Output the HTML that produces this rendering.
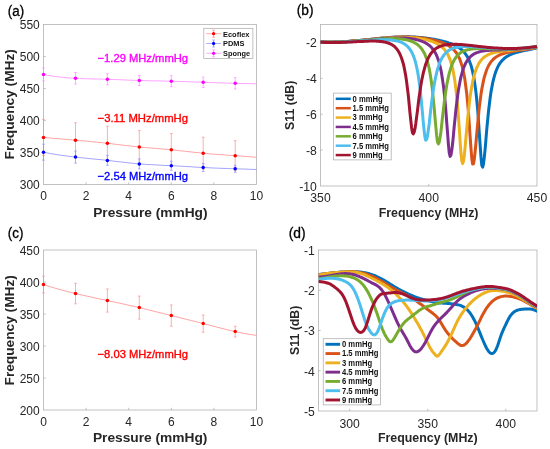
<!DOCTYPE html>
<html><head><meta charset="utf-8"><title>Figure</title>
<style>html,body{margin:0;padding:0;background:#fff}svg{display:block}text{font-family:"Liberation Sans", Arial, Helvetica, sans-serif}</style>
</head><body>
<svg width="550" height="449" viewBox="0 0 550 449" font-family='"Liberation Sans", Arial, Helvetica, sans-serif'>
<rect width="550" height="449" fill="#fff"/>
<rect x="43.5" y="24.5" width="213.0" height="160.0" fill="#fff" stroke="#b2b2b2" stroke-width="0.8"/>
<line x1="86.10" y1="184.5" x2="86.10" y2="182.3" stroke="#b2b2b2" stroke-width="0.8"/>
<line x1="128.70" y1="184.5" x2="128.70" y2="182.3" stroke="#b2b2b2" stroke-width="0.8"/>
<line x1="171.30" y1="184.5" x2="171.30" y2="182.3" stroke="#b2b2b2" stroke-width="0.8"/>
<line x1="213.90" y1="184.5" x2="213.90" y2="182.3" stroke="#b2b2b2" stroke-width="0.8"/>
<line x1="43.5" y1="152.50" x2="45.7" y2="152.50" stroke="#b2b2b2" stroke-width="0.8"/>
<line x1="43.5" y1="120.50" x2="45.7" y2="120.50" stroke="#b2b2b2" stroke-width="0.8"/>
<line x1="43.5" y1="88.50" x2="45.7" y2="88.50" stroke="#b2b2b2" stroke-width="0.8"/>
<line x1="43.5" y1="56.50" x2="45.7" y2="56.50" stroke="#b2b2b2" stroke-width="0.8"/>
<text x="39.8" y="188.9" font-size="12" text-anchor="end" font-weight="normal" fill="#262626">300</text>
<text x="39.8" y="156.9" font-size="12" text-anchor="end" font-weight="normal" fill="#262626">350</text>
<text x="39.8" y="124.9" font-size="12" text-anchor="end" font-weight="normal" fill="#262626">400</text>
<text x="39.8" y="92.9" font-size="12" text-anchor="end" font-weight="normal" fill="#262626">450</text>
<text x="39.8" y="60.9" font-size="12" text-anchor="end" font-weight="normal" fill="#262626">500</text>
<text x="39.8" y="28.9" font-size="12" text-anchor="end" font-weight="normal" fill="#262626">550</text>
<text x="43.5" y="200" font-size="12" text-anchor="middle" font-weight="normal" fill="#262626">0</text>
<text x="86.1" y="200" font-size="12" text-anchor="middle" font-weight="normal" fill="#262626">2</text>
<text x="128.7" y="200" font-size="12" text-anchor="middle" font-weight="normal" fill="#262626">4</text>
<text x="171.3" y="200" font-size="12" text-anchor="middle" font-weight="normal" fill="#262626">6</text>
<text x="213.9" y="200" font-size="12" text-anchor="middle" font-weight="normal" fill="#262626">8</text>
<text x="256.5" y="200" font-size="12" text-anchor="middle" font-weight="normal" fill="#262626">10</text>
<text x="150.4" y="217.4" font-size="13.6" text-anchor="middle" font-weight="bold" fill="#262626" textLength="114.4" lengthAdjust="spacingAndGlyphs">Pressure (mmHg)</text>
<text x="14" y="104.3" font-size="13.6" text-anchor="middle" font-weight="bold" fill="#262626" textLength="110.3" lengthAdjust="spacingAndGlyphs" transform="rotate(-90 14 104.3)">Frequency (MHz)</text>
<text x="7.8" y="15.6" font-size="14" text-anchor="start" font-weight="normal" fill="#000" textLength="16.3" lengthAdjust="spacingAndGlyphs" stroke="#000" stroke-width="0.3">(a)</text>
<path d="M43.5,74.5 L47.1,75.2 L50.7,75.8 L54.3,76.4 L57.9,76.8 L61.6,77.2 L65.2,77.6 L68.8,77.9 L72.4,78.1 L76.0,78.3 L79.6,78.5 L83.2,78.6 L86.8,78.8 L90.4,78.9 L94.0,79.0 L97.7,79.0 L101.3,79.1 L104.9,79.2 L108.5,79.3 L112.1,79.5 L115.7,79.6 L119.3,79.7 L122.9,79.9 L126.5,80.0 L130.1,80.2 L133.8,80.3 L137.4,80.4 L141.0,80.5 L144.6,80.6 L148.2,80.7 L151.8,80.8 L155.4,80.9 L159.0,80.9 L162.6,81.0 L166.2,81.1 L169.9,81.2 L173.5,81.3 L177.1,81.4 L180.7,81.5 L184.3,81.6 L187.9,81.7 L191.5,81.9 L195.1,82.0 L198.7,82.1 L202.3,82.3 L206.0,82.4 L209.6,82.5 L213.2,82.6 L216.8,82.8 L220.4,82.9 L224.0,83.0 L227.6,83.1 L231.2,83.2 L234.8,83.3 L238.4,83.4 L242.1,83.5 L245.7,83.6 L249.3,83.6 L252.9,83.7 L256.5,83.8" fill="none" stroke="#ff8cff" stroke-width="0.8"/>
<path d="M43.5,68.1 V80.9 M42.2,68.1 h2.6 M42.2,80.9 h2.6" fill="none" stroke="#ff8cff" stroke-width="0.7"/>
<circle cx="43.5" cy="74.5" r="1.75" fill="#ff00ff"/>
<path d="M75.5,72.5 V84.1 M74.2,72.5 h2.6 M74.2,84.1 h2.6" fill="none" stroke="#ff8cff" stroke-width="0.7"/>
<circle cx="75.5" cy="78.3" r="1.75" fill="#ff00ff"/>
<path d="M107.4,73.8 V84.8 M106.1,73.8 h2.6 M106.1,84.8 h2.6" fill="none" stroke="#ff8cff" stroke-width="0.7"/>
<circle cx="107.4" cy="79.3" r="1.75" fill="#ff00ff"/>
<path d="M139.3,75.5 V85.5 M138.0,75.5 h2.6 M138.0,85.5 h2.6" fill="none" stroke="#ff8cff" stroke-width="0.7"/>
<circle cx="139.3" cy="80.5" r="1.75" fill="#ff00ff"/>
<path d="M171.3,75.7 V86.7 M170.0,75.7 h2.6 M170.0,86.7 h2.6" fill="none" stroke="#ff8cff" stroke-width="0.7"/>
<circle cx="171.3" cy="81.2" r="1.75" fill="#ff00ff"/>
<path d="M203.2,77.1 V87.5 M201.9,77.1 h2.6 M201.9,87.5 h2.6" fill="none" stroke="#ff8cff" stroke-width="0.7"/>
<circle cx="203.2" cy="82.3" r="1.75" fill="#ff00ff"/>
<path d="M235.2,77.6 V89.0 M233.9,77.6 h2.6 M233.9,89.0 h2.6" fill="none" stroke="#ff8cff" stroke-width="0.7"/>
<circle cx="235.2" cy="83.3" r="1.75" fill="#ff00ff"/>
<path d="M43.5,137.4 L47.1,137.7 L50.7,138.1 L54.3,138.4 L57.9,138.7 L61.6,139.0 L65.2,139.3 L68.8,139.6 L72.4,139.9 L76.0,140.2 L79.6,140.6 L83.2,140.9 L86.8,141.2 L90.4,141.6 L94.0,141.9 L97.7,142.3 L101.3,142.6 L104.9,143.0 L108.5,143.4 L112.1,143.8 L115.7,144.3 L119.3,144.7 L122.9,145.1 L126.5,145.6 L130.1,146.0 L133.8,146.4 L137.4,146.8 L141.0,147.2 L144.6,147.5 L148.2,147.8 L151.8,148.1 L155.4,148.4 L159.0,148.7 L162.6,149.0 L166.2,149.3 L169.9,149.7 L173.5,150.0 L177.1,150.4 L180.7,150.8 L184.3,151.2 L187.9,151.6 L191.5,152.0 L195.1,152.4 L198.7,152.7 L202.3,153.1 L206.0,153.5 L209.6,153.8 L213.2,154.1 L216.8,154.4 L220.4,154.6 L224.0,154.9 L227.6,155.2 L231.2,155.4 L234.8,155.7 L238.4,155.9 L242.1,156.2 L245.7,156.4 L249.3,156.7 L252.9,157.0 L256.5,157.3" fill="none" stroke="#ff8c8c" stroke-width="0.8"/>
<path d="M43.5,119.4 V155.4 M42.2,119.4 h2.6 M42.2,155.4 h2.6" fill="none" stroke="#ff8c8c" stroke-width="0.7"/>
<circle cx="43.5" cy="137.4" r="1.75" fill="#ff0000"/>
<path d="M75.5,122.7 V157.7 M74.2,122.7 h2.6 M74.2,157.7 h2.6" fill="none" stroke="#ff8c8c" stroke-width="0.7"/>
<circle cx="75.5" cy="140.2" r="1.75" fill="#ff0000"/>
<path d="M107.4,126.3 V160.3 M106.1,126.3 h2.6 M106.1,160.3 h2.6" fill="none" stroke="#ff8c8c" stroke-width="0.7"/>
<circle cx="107.4" cy="143.3" r="1.75" fill="#ff0000"/>
<path d="M139.3,130.4 V163.6 M138.0,130.4 h2.6 M138.0,163.6 h2.6" fill="none" stroke="#ff8c8c" stroke-width="0.7"/>
<circle cx="139.3" cy="147.0" r="1.75" fill="#ff0000"/>
<path d="M171.3,133.6 V166.0 M170.0,133.6 h2.6 M170.0,166.0 h2.6" fill="none" stroke="#ff8c8c" stroke-width="0.7"/>
<circle cx="171.3" cy="149.8" r="1.75" fill="#ff0000"/>
<path d="M203.2,137.2 V169.2 M201.9,137.2 h2.6 M201.9,169.2 h2.6" fill="none" stroke="#ff8c8c" stroke-width="0.7"/>
<circle cx="203.2" cy="153.2" r="1.75" fill="#ff0000"/>
<path d="M235.2,140.7 V170.7 M233.9,140.7 h2.6 M233.9,170.7 h2.6" fill="none" stroke="#ff8c8c" stroke-width="0.7"/>
<circle cx="235.2" cy="155.7" r="1.75" fill="#ff0000"/>
<path d="M43.5,152.2 L47.1,152.9 L50.7,153.6 L54.3,154.2 L57.9,154.8 L61.6,155.3 L65.2,155.8 L68.8,156.3 L72.4,156.7 L76.0,157.2 L79.6,157.6 L83.2,157.9 L86.8,158.3 L90.4,158.7 L94.0,159.0 L97.7,159.4 L101.3,159.7 L104.9,160.1 L108.5,160.5 L112.1,160.9 L115.7,161.4 L119.3,161.8 L122.9,162.2 L126.5,162.6 L130.1,163.0 L133.8,163.4 L137.4,163.7 L141.0,164.0 L144.6,164.3 L148.2,164.5 L151.8,164.7 L155.4,164.9 L159.0,165.1 L162.6,165.3 L166.2,165.5 L169.9,165.6 L173.5,165.8 L177.1,166.0 L180.7,166.2 L184.3,166.4 L187.9,166.6 L191.5,166.8 L195.1,167.1 L198.7,167.3 L202.3,167.5 L206.0,167.6 L209.6,167.8 L213.2,168.0 L216.8,168.1 L220.4,168.3 L224.0,168.4 L227.6,168.5 L231.2,168.7 L234.8,168.8 L238.4,168.9 L242.1,169.0 L245.7,169.1 L249.3,169.3 L252.9,169.4 L256.5,169.5" fill="none" stroke="#8c8cff" stroke-width="0.8"/>
<path d="M43.5,144.2 V160.2 M42.2,144.2 h2.6 M42.2,160.2 h2.6" fill="none" stroke="#8c8cff" stroke-width="0.7"/>
<circle cx="43.5" cy="152.2" r="1.75" fill="#0000ff"/>
<path d="M75.5,151.1 V163.1 M74.2,151.1 h2.6 M74.2,163.1 h2.6" fill="none" stroke="#8c8cff" stroke-width="0.7"/>
<circle cx="75.5" cy="157.1" r="1.75" fill="#0000ff"/>
<path d="M107.4,155.4 V165.4 M106.1,155.4 h2.6 M106.1,165.4 h2.6" fill="none" stroke="#8c8cff" stroke-width="0.7"/>
<circle cx="107.4" cy="160.4" r="1.75" fill="#0000ff"/>
<path d="M139.3,158.9 V168.9 M138.0,158.9 h2.6 M138.0,168.9 h2.6" fill="none" stroke="#8c8cff" stroke-width="0.7"/>
<circle cx="139.3" cy="163.9" r="1.75" fill="#0000ff"/>
<path d="M171.3,161.2 V170.2 M170.0,161.2 h2.6 M170.0,170.2 h2.6" fill="none" stroke="#8c8cff" stroke-width="0.7"/>
<circle cx="171.3" cy="165.7" r="1.75" fill="#0000ff"/>
<path d="M203.2,163.5 V171.5 M201.9,163.5 h2.6 M201.9,171.5 h2.6" fill="none" stroke="#8c8cff" stroke-width="0.7"/>
<circle cx="203.2" cy="167.5" r="1.75" fill="#0000ff"/>
<path d="M235.2,165.2 V172.4 M233.9,165.2 h2.6 M233.9,172.4 h2.6" fill="none" stroke="#8c8cff" stroke-width="0.7"/>
<circle cx="235.2" cy="168.8" r="1.75" fill="#0000ff"/>
<text x="97.6" y="62.4" font-size="11" text-anchor="start" font-weight="normal" fill="#ff00ff" textLength="90.4" lengthAdjust="spacingAndGlyphs" stroke="#ff00ff" stroke-width="0.35">−1.29 MHz/mmHg</text>
<text x="97.6" y="121.8" font-size="11" text-anchor="start" font-weight="normal" fill="#ff0000" textLength="90.4" lengthAdjust="spacingAndGlyphs" stroke="#ff0000" stroke-width="0.35">−3.11 MHz/mmHg</text>
<text x="97.6" y="180.4" font-size="11" text-anchor="start" font-weight="normal" fill="#0000ff" textLength="90.4" lengthAdjust="spacingAndGlyphs" stroke="#0000ff" stroke-width="0.35">−2.54 MHz/mmHg</text>
<rect x="203.8" y="28.3" width="49.1" height="30.1" fill="#fff" stroke="#a8a8a8" stroke-width="0.7"/>
<path d="M206.2,33.7 H221 M213.6,30.200000000000003 v7 M212.2,30.200000000000003 h2.8 M212.2,37.2 h2.8" stroke="#ff8c8c" stroke-width="0.7" fill="none"/>
<circle cx="213.6" cy="33.7" r="1.65" fill="#ff0000"/>
<text x="223" y="36.5" font-size="8" text-anchor="start" font-weight="bold" fill="#111" textLength="26.5" lengthAdjust="spacingAndGlyphs">Ecoflex</text>
<path d="M206.2,43.5 H221 M213.6,40.0 v7 M212.2,40.0 h2.8 M212.2,47.0 h2.8" stroke="#8c8cff" stroke-width="0.7" fill="none"/>
<circle cx="213.6" cy="43.5" r="1.65" fill="#0000ff"/>
<text x="223" y="46.3" font-size="8" text-anchor="start" font-weight="bold" fill="#111" textLength="21.4" lengthAdjust="spacingAndGlyphs">PDMS</text>
<path d="M206.2,53.300000000000004 H221 M213.6,49.800000000000004 v7 M212.2,49.800000000000004 h2.8 M212.2,56.800000000000004 h2.8" stroke="#ff8cff" stroke-width="0.7" fill="none"/>
<circle cx="213.6" cy="53.300000000000004" r="1.65" fill="#ff00ff"/>
<text x="223" y="56.1" font-size="8" text-anchor="start" font-weight="bold" fill="#111" textLength="27" lengthAdjust="spacingAndGlyphs">Sponge</text>
<rect x="320.5" y="24.5" width="216.5" height="161.5" fill="#fff" stroke="#b2b2b2" stroke-width="0.8"/>
<line x1="428.75" y1="186" x2="428.75" y2="183.8" stroke="#b2b2b2" stroke-width="0.8"/>
<line x1="320.5" y1="42.44" x2="322.7" y2="42.44" stroke="#b2b2b2" stroke-width="0.8"/>
<line x1="320.5" y1="78.33" x2="322.7" y2="78.33" stroke="#b2b2b2" stroke-width="0.8"/>
<line x1="320.5" y1="114.22" x2="322.7" y2="114.22" stroke="#b2b2b2" stroke-width="0.8"/>
<line x1="320.5" y1="150.11" x2="322.7" y2="150.11" stroke="#b2b2b2" stroke-width="0.8"/>
<text x="316.8" y="47.44444444444444" font-size="12.2" text-anchor="end" font-weight="normal" fill="#262626">-2</text>
<text x="316.8" y="83.33333333333334" font-size="12.2" text-anchor="end" font-weight="normal" fill="#262626">-4</text>
<text x="316.8" y="119.22222222222223" font-size="12.2" text-anchor="end" font-weight="normal" fill="#262626">-6</text>
<text x="316.8" y="155.11111111111111" font-size="12.2" text-anchor="end" font-weight="normal" fill="#262626">-8</text>
<text x="316.8" y="191.0" font-size="12.2" text-anchor="end" font-weight="normal" fill="#262626">-10</text>
<text x="320.5" y="201.9" font-size="12.2" text-anchor="middle" font-weight="normal" fill="#262626">350</text>
<text x="428.75" y="201.9" font-size="12.2" text-anchor="middle" font-weight="normal" fill="#262626">400</text>
<text x="537.0" y="201.9" font-size="12.2" text-anchor="middle" font-weight="normal" fill="#262626">450</text>
<text x="428.6" y="217.2" font-size="12.4" text-anchor="middle" font-weight="bold" fill="#262626" textLength="99.7" lengthAdjust="spacingAndGlyphs">Frequency (MHz)</text>
<text x="294.2" y="105.3" font-size="12.3" text-anchor="middle" font-weight="bold" fill="#262626" textLength="49.4" lengthAdjust="spacingAndGlyphs" transform="rotate(-90 294.2 105.3)">S11 (dB)</text>
<text x="296.8" y="15.4" font-size="14.6" text-anchor="start" font-weight="normal" fill="#000" textLength="16.8" lengthAdjust="spacingAndGlyphs" stroke="#000" stroke-width="0.3">(b)</text>
<path d="M320.5,41.9 L321.3,41.9 L322.2,41.9 L323.0,42.0 L323.8,42.0 L324.7,42.0 L325.5,42.0 L326.4,42.0 L327.2,42.0 L328.0,42.1 L328.9,42.1 L329.7,42.1 L330.5,42.1 L331.4,42.1 L332.2,42.0 L333.0,42.0 L333.9,42.0 L334.7,42.0 L335.5,42.0 L336.4,42.0 L337.2,41.9 L338.1,41.9 L338.9,41.9 L339.7,41.8 L340.6,41.8 L341.4,41.8 L342.2,41.7 L343.1,41.7 L343.9,41.6 L344.7,41.6 L345.6,41.5 L346.4,41.5 L347.2,41.4 L348.1,41.4 L348.9,41.3 L349.8,41.3 L350.6,41.2 L351.4,41.1 L352.3,41.1 L353.1,41.0 L353.9,40.9 L354.8,40.9 L355.6,40.8 L356.4,40.7 L357.3,40.6 L358.1,40.6 L359.0,40.5 L359.8,40.4 L360.6,40.3 L361.5,40.2 L362.3,40.2 L363.1,40.1 L364.0,40.0 L364.8,39.9 L365.6,39.8 L366.5,39.7 L367.3,39.6 L368.1,39.6 L369.0,39.5 L369.8,39.4 L370.7,39.3 L371.5,39.2 L372.3,39.1 L373.2,39.0 L374.0,38.9 L374.8,38.8 L375.7,38.8 L376.5,38.7 L377.3,38.6 L378.2,38.5 L379.0,38.4 L379.8,38.3 L380.7,38.2 L381.5,38.2 L382.4,38.1 L383.2,38.0 L384.0,37.9 L384.9,37.9 L385.7,37.8 L386.5,37.7 L387.4,37.6 L388.2,37.6 L389.0,37.5 L389.9,37.4 L390.7,37.4 L391.6,37.3 L392.4,37.3 L393.2,37.2 L394.1,37.2 L394.9,37.1 L395.7,37.1 L396.6,37.0 L397.4,37.0 L398.2,36.9 L399.1,36.9 L399.9,36.9 L400.7,36.9 L401.6,36.8 L402.4,36.8 L403.3,36.8 L404.1,36.8 L404.9,36.8 L405.8,36.8 L406.6,36.8 L407.4,36.8 L408.3,36.8 L409.1,36.8 L409.9,36.8 L410.8,36.9 L411.6,36.9 L412.4,36.9 L413.3,37.0 L414.1,37.0 L415.0,37.1 L415.8,37.1 L416.6,37.2 L417.5,37.2 L418.3,37.3 L419.1,37.4 L420.0,37.4 L420.8,37.5 L421.6,37.6 L422.5,37.7 L423.3,37.8 L424.2,37.9 L425.0,38.0 L425.8,38.1 L426.7,38.2 L427.5,38.3 L428.3,38.4 L429.2,38.5 L430.0,38.7 L430.8,38.8 L431.7,38.9 L432.5,39.1 L433.3,39.2 L434.2,39.3 L435.0,39.5 L435.9,39.7 L436.7,39.8 L437.5,40.0 L438.4,40.2 L439.2,40.3 L440.0,40.5 L440.9,40.7 L441.7,40.9 L442.5,41.1 L443.4,41.3 L444.2,41.6 L445.1,41.8 L445.9,42.0 L446.7,42.3 L447.6,42.5 L448.4,42.8 L449.2,43.1 L450.1,43.4 L450.9,43.7 L451.7,44.0 L452.6,44.3 L453.4,44.7 L454.2,45.1 L455.1,45.5 L455.9,45.9 L456.8,46.4 L457.6,46.8 L458.4,47.4 L459.3,47.9 L460.1,48.5 L460.9,49.1 L461.8,49.8 L462.6,50.6 L463.4,51.4 L464.3,52.4 L465.1,53.4 L465.9,54.5 L466.8,55.8 L467.6,57.2 L468.5,58.9 L469.3,60.7 L470.1,62.9 L471.0,65.3 L471.8,68.2 L472.6,71.6 L473.5,75.6 L474.3,80.3 L475.1,85.9 L476.0,92.6 L476.8,100.6 L477.7,110.0 L478.5,121.0 L479.3,133.2 L480.2,145.9 L481.0,157.4 L481.8,165.3 L482.7,167.1 L483.5,163.9 L484.3,157.3 L485.2,148.4 L486.0,138.6 L486.8,128.8 L487.7,119.6 L488.5,111.3 L489.4,104.0 L490.2,97.5 L491.0,91.9 L491.9,87.1 L492.7,82.9 L493.5,79.3 L494.4,76.2 L495.2,73.4 L496.0,71.1 L496.9,69.0 L497.7,67.2 L498.5,65.6 L499.4,64.1 L500.2,62.9 L501.1,61.8 L501.9,60.8 L502.7,59.9 L503.6,59.1 L504.4,58.3 L505.2,57.7 L506.1,57.1 L506.9,56.5 L507.7,56.0 L508.6,55.6 L509.4,55.1 L510.3,54.7 L511.1,54.4 L511.9,54.0 L512.8,53.7 L513.6,53.4 L514.4,53.1 L515.3,52.9 L516.1,52.6 L516.9,52.4 L517.8,52.2 L518.6,51.9 L519.4,51.7 L520.3,51.5 L521.1,51.3 L522.0,51.1 L522.8,50.9 L523.6,50.7 L524.5,50.6 L525.3,50.4 L526.1,50.2 L527.0,50.0 L527.8,49.9 L528.6,49.7 L529.5,49.5 L530.3,49.3 L531.1,49.2 L532.0,49.0 L532.8,48.8 L533.7,48.6 L534.5,48.5 L535.3,48.3 L536.2,48.1 L537.0,47.9" fill="none" stroke="#0072bd" stroke-width="3" stroke-linejoin="round" stroke-linecap="butt"/>
<path d="M320.5,41.9 L321.3,41.9 L322.2,42.0 L323.0,42.0 L323.8,42.0 L324.7,42.0 L325.5,42.0 L326.4,42.1 L327.2,42.1 L328.0,42.1 L328.9,42.1 L329.7,42.1 L330.5,42.1 L331.4,42.1 L332.2,42.1 L333.0,42.1 L333.9,42.0 L334.7,42.0 L335.5,42.0 L336.4,42.0 L337.2,42.0 L338.1,41.9 L338.9,41.9 L339.7,41.9 L340.6,41.8 L341.4,41.8 L342.2,41.8 L343.1,41.7 L343.9,41.7 L344.7,41.6 L345.6,41.6 L346.4,41.5 L347.2,41.5 L348.1,41.4 L348.9,41.4 L349.8,41.3 L350.6,41.2 L351.4,41.2 L352.3,41.1 L353.1,41.0 L353.9,41.0 L354.8,40.9 L355.6,40.8 L356.4,40.8 L357.3,40.7 L358.1,40.6 L359.0,40.5 L359.8,40.4 L360.6,40.4 L361.5,40.3 L362.3,40.2 L363.1,40.1 L364.0,40.0 L364.8,40.0 L365.6,39.9 L366.5,39.8 L367.3,39.7 L368.1,39.6 L369.0,39.5 L369.8,39.4 L370.7,39.4 L371.5,39.3 L372.3,39.2 L373.2,39.1 L374.0,39.0 L374.8,38.9 L375.7,38.8 L376.5,38.7 L377.3,38.7 L378.2,38.6 L379.0,38.5 L379.8,38.4 L380.7,38.3 L381.5,38.3 L382.4,38.2 L383.2,38.1 L384.0,38.0 L384.9,37.9 L385.7,37.9 L386.5,37.8 L387.4,37.7 L388.2,37.7 L389.0,37.6 L389.9,37.5 L390.7,37.5 L391.6,37.4 L392.4,37.4 L393.2,37.3 L394.1,37.3 L394.9,37.2 L395.7,37.2 L396.6,37.2 L397.4,37.1 L398.2,37.1 L399.1,37.1 L399.9,37.0 L400.7,37.0 L401.6,37.0 L402.4,37.0 L403.3,37.0 L404.1,37.0 L404.9,37.0 L405.8,37.0 L406.6,37.0 L407.4,37.0 L408.3,37.0 L409.1,37.1 L409.9,37.1 L410.8,37.1 L411.6,37.2 L412.4,37.2 L413.3,37.3 L414.1,37.3 L415.0,37.4 L415.8,37.4 L416.6,37.5 L417.5,37.6 L418.3,37.7 L419.1,37.7 L420.0,37.8 L420.8,37.9 L421.6,38.0 L422.5,38.1 L423.3,38.2 L424.2,38.3 L425.0,38.5 L425.8,38.6 L426.7,38.7 L427.5,38.9 L428.3,39.0 L429.2,39.2 L430.0,39.3 L430.8,39.5 L431.7,39.7 L432.5,39.8 L433.3,40.0 L434.2,40.2 L435.0,40.4 L435.9,40.6 L436.7,40.8 L437.5,41.1 L438.4,41.3 L439.2,41.6 L440.0,41.8 L440.9,42.1 L441.7,42.4 L442.5,42.7 L443.4,43.1 L444.2,43.4 L445.1,43.8 L445.9,44.2 L446.7,44.6 L447.6,45.1 L448.4,45.5 L449.2,46.1 L450.1,46.6 L450.9,47.2 L451.7,47.9 L452.6,48.6 L453.4,49.4 L454.2,50.3 L455.1,51.3 L455.9,52.3 L456.8,53.5 L457.6,54.9 L458.4,56.4 L459.3,58.1 L460.1,60.1 L460.9,62.4 L461.8,65.1 L462.6,68.2 L463.4,71.8 L464.3,76.1 L465.1,81.1 L465.9,87.2 L466.8,94.4 L467.6,102.9 L468.5,112.8 L469.3,124.1 L470.1,136.4 L471.0,148.6 L471.8,158.7 L472.6,164.1 L473.5,163.7 L474.3,159.2 L475.1,151.8 L476.0,142.7 L476.8,133.1 L477.7,123.8 L478.5,115.1 L479.3,107.3 L480.2,100.4 L481.0,94.3 L481.8,89.1 L482.7,84.6 L483.5,80.6 L484.3,77.2 L485.2,74.3 L486.0,71.7 L486.8,69.5 L487.7,67.5 L488.5,65.8 L489.4,64.3 L490.2,63.0 L491.0,61.8 L491.9,60.8 L492.7,59.9 L493.5,59.0 L494.4,58.3 L495.2,57.6 L496.0,57.0 L496.9,56.5 L497.7,56.0 L498.5,55.5 L499.4,55.1 L500.2,54.7 L501.1,54.4 L501.9,54.1 L502.7,53.8 L503.6,53.5 L504.4,53.3 L505.2,53.0 L506.1,52.8 L506.9,52.6 L507.7,52.4 L508.6,52.2 L509.4,52.0 L510.3,51.9 L511.1,51.7 L511.9,51.6 L512.8,51.4 L513.6,51.3 L514.4,51.1 L515.3,51.0 L516.1,50.8 L516.9,50.7 L517.8,50.6 L518.6,50.5 L519.4,50.3 L520.3,50.2 L521.1,50.1 L522.0,50.0 L522.8,49.8 L523.6,49.7 L524.5,49.6 L525.3,49.4 L526.1,49.3 L527.0,49.2 L527.8,49.0 L528.6,48.9 L529.5,48.8 L530.3,48.6 L531.1,48.5 L532.0,48.4 L532.8,48.2 L533.7,48.1 L534.5,47.9 L535.3,47.8 L536.2,47.6 L537.0,47.4" fill="none" stroke="#d95319" stroke-width="3" stroke-linejoin="round" stroke-linecap="butt"/>
<path d="M320.5,41.9 L321.3,41.9 L322.2,42.0 L323.0,42.0 L323.8,42.0 L324.7,42.1 L325.5,42.1 L326.4,42.1 L327.2,42.1 L328.0,42.1 L328.9,42.1 L329.7,42.1 L330.5,42.1 L331.4,42.1 L332.2,42.1 L333.0,42.1 L333.9,42.1 L334.7,42.1 L335.5,42.0 L336.4,42.0 L337.2,42.0 L338.1,42.0 L338.9,41.9 L339.7,41.9 L340.6,41.9 L341.4,41.8 L342.2,41.8 L343.1,41.8 L343.9,41.7 L344.7,41.7 L345.6,41.6 L346.4,41.6 L347.2,41.5 L348.1,41.5 L348.9,41.4 L349.8,41.3 L350.6,41.3 L351.4,41.2 L352.3,41.2 L353.1,41.1 L353.9,41.0 L354.8,41.0 L355.6,40.9 L356.4,40.8 L357.3,40.7 L358.1,40.7 L359.0,40.6 L359.8,40.5 L360.6,40.4 L361.5,40.4 L362.3,40.3 L363.1,40.2 L364.0,40.1 L364.8,40.0 L365.6,40.0 L366.5,39.9 L367.3,39.8 L368.1,39.7 L369.0,39.6 L369.8,39.5 L370.7,39.4 L371.5,39.4 L372.3,39.3 L373.2,39.2 L374.0,39.1 L374.8,39.0 L375.7,38.9 L376.5,38.9 L377.3,38.8 L378.2,38.7 L379.0,38.6 L379.8,38.5 L380.7,38.5 L381.5,38.4 L382.4,38.3 L383.2,38.2 L384.0,38.2 L384.9,38.1 L385.7,38.0 L386.5,38.0 L387.4,37.9 L388.2,37.8 L389.0,37.8 L389.9,37.7 L390.7,37.7 L391.6,37.6 L392.4,37.6 L393.2,37.5 L394.1,37.5 L394.9,37.5 L395.7,37.4 L396.6,37.4 L397.4,37.4 L398.2,37.3 L399.1,37.3 L399.9,37.3 L400.7,37.3 L401.6,37.3 L402.4,37.3 L403.3,37.3 L404.1,37.3 L404.9,37.3 L405.8,37.3 L406.6,37.4 L407.4,37.4 L408.3,37.4 L409.1,37.5 L409.9,37.5 L410.8,37.6 L411.6,37.6 L412.4,37.7 L413.3,37.8 L414.1,37.8 L415.0,37.9 L415.8,38.0 L416.6,38.1 L417.5,38.2 L418.3,38.3 L419.1,38.4 L420.0,38.6 L420.8,38.7 L421.6,38.8 L422.5,39.0 L423.3,39.2 L424.2,39.3 L425.0,39.5 L425.8,39.7 L426.7,39.9 L427.5,40.1 L428.3,40.3 L429.2,40.6 L430.0,40.8 L430.8,41.1 L431.7,41.3 L432.5,41.6 L433.3,42.0 L434.2,42.3 L435.0,42.7 L435.9,43.1 L436.7,43.5 L437.5,43.9 L438.4,44.4 L439.2,44.9 L440.0,45.5 L440.9,46.1 L441.7,46.8 L442.5,47.5 L443.4,48.4 L444.2,49.3 L445.1,50.3 L445.9,51.4 L446.7,52.7 L447.6,54.1 L448.4,55.7 L449.2,57.6 L450.1,59.7 L450.9,62.2 L451.7,65.1 L452.6,68.4 L453.4,72.4 L454.2,77.0 L455.1,82.6 L455.9,89.2 L456.8,97.0 L457.6,106.1 L458.4,116.7 L459.3,128.6 L460.1,141.0 L460.9,152.5 L461.8,160.9 L462.6,163.6 L463.4,161.4 L464.3,155.5 L465.1,147.3 L465.9,137.9 L466.8,128.3 L467.6,119.2 L468.5,110.9 L469.3,103.4 L470.1,96.9 L471.0,91.1 L471.8,86.2 L472.6,81.9 L473.5,78.2 L474.3,74.9 L475.1,72.2 L476.0,69.7 L476.8,67.6 L477.7,65.8 L478.5,64.1 L479.3,62.7 L480.2,61.5 L481.0,60.3 L481.8,59.4 L482.7,58.5 L483.5,57.7 L484.3,57.0 L485.2,56.4 L486.0,55.9 L486.8,55.4 L487.7,54.9 L488.5,54.5 L489.4,54.2 L490.2,53.8 L491.0,53.5 L491.9,53.3 L492.7,53.0 L493.5,52.8 L494.4,52.6 L495.2,52.4 L496.0,52.2 L496.9,52.1 L497.7,51.9 L498.5,51.8 L499.4,51.6 L500.2,51.5 L501.1,51.4 L501.9,51.3 L502.7,51.2 L503.6,51.1 L504.4,51.0 L505.2,50.9 L506.1,50.8 L506.9,50.7 L507.7,50.7 L508.6,50.6 L509.4,50.5 L510.3,50.4 L511.1,50.3 L511.9,50.3 L512.8,50.2 L513.6,50.1 L514.4,50.0 L515.3,49.9 L516.1,49.9 L516.9,49.8 L517.8,49.7 L518.6,49.6 L519.4,49.5 L520.3,49.4 L521.1,49.3 L522.0,49.2 L522.8,49.2 L523.6,49.1 L524.5,49.0 L525.3,48.9 L526.1,48.8 L527.0,48.6 L527.8,48.5 L528.6,48.4 L529.5,48.3 L530.3,48.2 L531.1,48.1 L532.0,47.9 L532.8,47.8 L533.7,47.7 L534.5,47.5 L535.3,47.4 L536.2,47.2 L537.0,47.1" fill="none" stroke="#edb120" stroke-width="3" stroke-linejoin="round" stroke-linecap="butt"/>
<path d="M320.5,42.0 L321.3,42.0 L322.2,42.0 L323.0,42.1 L323.8,42.1 L324.7,42.1 L325.5,42.1 L326.4,42.1 L327.2,42.2 L328.0,42.2 L328.9,42.2 L329.7,42.2 L330.5,42.2 L331.4,42.2 L332.2,42.2 L333.0,42.2 L333.9,42.1 L334.7,42.1 L335.5,42.1 L336.4,42.1 L337.2,42.1 L338.1,42.0 L338.9,42.0 L339.7,42.0 L340.6,41.9 L341.4,41.9 L342.2,41.9 L343.1,41.8 L343.9,41.8 L344.7,41.7 L345.6,41.7 L346.4,41.6 L347.2,41.6 L348.1,41.5 L348.9,41.5 L349.8,41.4 L350.6,41.4 L351.4,41.3 L352.3,41.3 L353.1,41.2 L353.9,41.1 L354.8,41.1 L355.6,41.0 L356.4,40.9 L357.3,40.9 L358.1,40.8 L359.0,40.7 L359.8,40.6 L360.6,40.6 L361.5,40.5 L362.3,40.4 L363.1,40.3 L364.0,40.3 L364.8,40.2 L365.6,40.1 L366.5,40.0 L367.3,39.9 L368.1,39.9 L369.0,39.8 L369.8,39.7 L370.7,39.6 L371.5,39.5 L372.3,39.5 L373.2,39.4 L374.0,39.3 L374.8,39.2 L375.7,39.1 L376.5,39.1 L377.3,39.0 L378.2,38.9 L379.0,38.8 L379.8,38.8 L380.7,38.7 L381.5,38.6 L382.4,38.6 L383.2,38.5 L384.0,38.4 L384.9,38.4 L385.7,38.3 L386.5,38.3 L387.4,38.2 L388.2,38.2 L389.0,38.1 L389.9,38.1 L390.7,38.0 L391.6,38.0 L392.4,38.0 L393.2,37.9 L394.1,37.9 L394.9,37.9 L395.7,37.9 L396.6,37.9 L397.4,37.9 L398.2,37.9 L399.1,37.9 L399.9,37.9 L400.7,37.9 L401.6,37.9 L402.4,37.9 L403.3,38.0 L404.1,38.0 L404.9,38.0 L405.8,38.1 L406.6,38.2 L407.4,38.2 L408.3,38.3 L409.1,38.4 L409.9,38.5 L410.8,38.6 L411.6,38.7 L412.4,38.9 L413.3,39.0 L414.1,39.1 L415.0,39.3 L415.8,39.5 L416.6,39.7 L417.5,39.9 L418.3,40.1 L419.1,40.3 L420.0,40.6 L420.8,40.9 L421.6,41.2 L422.5,41.5 L423.3,41.9 L424.2,42.2 L425.0,42.6 L425.8,43.1 L426.7,43.6 L427.5,44.1 L428.3,44.7 L429.2,45.3 L430.0,46.0 L430.8,46.8 L431.7,47.7 L432.5,48.7 L433.3,49.7 L434.2,51.0 L435.0,52.3 L435.9,53.9 L436.7,55.7 L437.5,57.7 L438.4,60.1 L439.2,62.8 L440.0,66.1 L440.9,69.8 L441.7,74.2 L442.5,79.4 L443.4,85.6 L444.2,92.9 L445.1,101.4 L445.9,111.2 L446.7,122.1 L447.6,133.5 L448.4,144.3 L449.2,152.6 L450.1,156.4 L450.9,155.2 L451.7,150.7 L452.6,143.8 L453.4,135.4 L454.2,126.5 L455.1,117.9 L455.9,109.8 L456.8,102.5 L457.6,96.0 L458.4,90.3 L459.3,85.3 L460.1,80.9 L460.9,77.1 L461.8,73.8 L462.6,71.0 L463.4,68.5 L464.3,66.3 L465.1,64.4 L465.9,62.7 L466.8,61.3 L467.6,60.0 L468.5,58.9 L469.3,57.9 L470.1,57.0 L471.0,56.2 L471.8,55.5 L472.6,54.9 L473.5,54.3 L474.3,53.8 L475.1,53.4 L476.0,53.0 L476.8,52.7 L477.7,52.4 L478.5,52.1 L479.3,51.8 L480.2,51.6 L481.0,51.4 L481.8,51.2 L482.7,51.1 L483.5,50.9 L484.3,50.8 L485.2,50.7 L486.0,50.6 L486.8,50.5 L487.7,50.4 L488.5,50.4 L489.4,50.3 L490.2,50.3 L491.0,50.2 L491.9,50.2 L492.7,50.1 L493.5,50.1 L494.4,50.1 L495.2,50.0 L496.0,50.0 L496.9,50.0 L497.7,49.9 L498.5,49.9 L499.4,49.9 L500.2,49.9 L501.1,49.8 L501.9,49.8 L502.7,49.8 L503.6,49.8 L504.4,49.7 L505.2,49.7 L506.1,49.7 L506.9,49.7 L507.7,49.6 L508.6,49.6 L509.4,49.6 L510.3,49.5 L511.1,49.5 L511.9,49.4 L512.8,49.4 L513.6,49.4 L514.4,49.3 L515.3,49.3 L516.1,49.2 L516.9,49.2 L517.8,49.1 L518.6,49.0 L519.4,49.0 L520.3,48.9 L521.1,48.8 L522.0,48.8 L522.8,48.7 L523.6,48.6 L524.5,48.5 L525.3,48.4 L526.1,48.3 L527.0,48.3 L527.8,48.2 L528.6,48.1 L529.5,48.0 L530.3,47.8 L531.1,47.7 L532.0,47.6 L532.8,47.5 L533.7,47.4 L534.5,47.2 L535.3,47.1 L536.2,47.0 L537.0,46.8" fill="none" stroke="#7e2f8e" stroke-width="3" stroke-linejoin="round" stroke-linecap="butt"/>
<path d="M320.5,42.0 L321.3,42.0 L322.2,42.1 L323.0,42.1 L323.8,42.1 L324.7,42.2 L325.5,42.2 L326.4,42.2 L327.2,42.2 L328.0,42.2 L328.9,42.2 L329.7,42.2 L330.5,42.2 L331.4,42.2 L332.2,42.2 L333.0,42.2 L333.9,42.2 L334.7,42.2 L335.5,42.2 L336.4,42.2 L337.2,42.1 L338.1,42.1 L338.9,42.1 L339.7,42.1 L340.6,42.0 L341.4,42.0 L342.2,42.0 L343.1,41.9 L343.9,41.9 L344.7,41.8 L345.6,41.8 L346.4,41.7 L347.2,41.7 L348.1,41.6 L348.9,41.6 L349.8,41.5 L350.6,41.5 L351.4,41.4 L352.3,41.4 L353.1,41.3 L353.9,41.3 L354.8,41.2 L355.6,41.1 L356.4,41.1 L357.3,41.0 L358.1,40.9 L359.0,40.9 L359.8,40.8 L360.6,40.7 L361.5,40.6 L362.3,40.6 L363.1,40.5 L364.0,40.4 L364.8,40.4 L365.6,40.3 L366.5,40.2 L367.3,40.1 L368.1,40.1 L369.0,40.0 L369.8,39.9 L370.7,39.8 L371.5,39.8 L372.3,39.7 L373.2,39.6 L374.0,39.6 L374.8,39.5 L375.7,39.4 L376.5,39.4 L377.3,39.3 L378.2,39.2 L379.0,39.2 L379.8,39.1 L380.7,39.1 L381.5,39.0 L382.4,38.9 L383.2,38.9 L384.0,38.9 L384.9,38.8 L385.7,38.8 L386.5,38.7 L387.4,38.7 L388.2,38.7 L389.0,38.7 L389.9,38.6 L390.7,38.6 L391.6,38.6 L392.4,38.6 L393.2,38.6 L394.1,38.6 L394.9,38.7 L395.7,38.7 L396.6,38.7 L397.4,38.7 L398.2,38.8 L399.1,38.8 L399.9,38.9 L400.7,39.0 L401.6,39.1 L402.4,39.2 L403.3,39.3 L404.1,39.4 L404.9,39.5 L405.8,39.7 L406.6,39.9 L407.4,40.1 L408.3,40.3 L409.1,40.5 L409.9,40.8 L410.8,41.0 L411.6,41.3 L412.4,41.7 L413.3,42.0 L414.1,42.5 L415.0,42.9 L415.8,43.4 L416.6,43.9 L417.5,44.6 L418.3,45.2 L419.1,46.0 L420.0,46.8 L420.8,47.8 L421.6,48.8 L422.5,50.0 L423.3,51.4 L424.2,52.9 L425.0,54.7 L425.8,56.7 L426.7,59.1 L427.5,61.8 L428.3,65.0 L429.2,68.7 L430.0,73.0 L430.8,78.1 L431.7,84.1 L432.5,91.0 L433.3,99.0 L434.2,108.0 L435.0,117.6 L435.9,127.4 L436.7,136.0 L437.5,142.0 L438.4,143.9 L439.2,142.3 L440.0,138.0 L440.9,132.0 L441.7,124.8 L442.5,117.2 L443.4,109.7 L444.2,102.7 L445.1,96.3 L445.9,90.5 L446.7,85.4 L447.6,80.8 L448.4,76.9 L449.2,73.4 L450.1,70.4 L450.9,67.7 L451.7,65.4 L452.6,63.3 L453.4,61.6 L454.2,60.0 L455.1,58.6 L455.9,57.4 L456.8,56.3 L457.6,55.4 L458.4,54.5 L459.3,53.8 L460.1,53.1 L460.9,52.6 L461.8,52.0 L462.6,51.6 L463.4,51.2 L464.3,50.8 L465.1,50.5 L465.9,50.2 L466.8,50.0 L467.6,49.8 L468.5,49.6 L469.3,49.4 L470.1,49.3 L471.0,49.1 L471.8,49.0 L472.6,48.9 L473.5,48.8 L474.3,48.8 L475.1,48.7 L476.0,48.7 L476.8,48.6 L477.7,48.6 L478.5,48.6 L479.3,48.6 L480.2,48.6 L481.0,48.6 L481.8,48.6 L482.7,48.6 L483.5,48.6 L484.3,48.6 L485.2,48.6 L486.0,48.7 L486.8,48.7 L487.7,48.7 L488.5,48.7 L489.4,48.8 L490.2,48.8 L491.0,48.8 L491.9,48.8 L492.7,48.9 L493.5,48.9 L494.4,48.9 L495.2,48.9 L496.0,49.0 L496.9,49.0 L497.7,49.0 L498.5,49.0 L499.4,49.0 L500.2,49.0 L501.1,49.1 L501.9,49.1 L502.7,49.1 L503.6,49.1 L504.4,49.1 L505.2,49.1 L506.1,49.1 L506.9,49.1 L507.7,49.1 L508.6,49.1 L509.4,49.0 L510.3,49.0 L511.1,49.0 L511.9,49.0 L512.8,49.0 L513.6,48.9 L514.4,48.9 L515.3,48.9 L516.1,48.8 L516.9,48.8 L517.8,48.7 L518.6,48.7 L519.4,48.6 L520.3,48.6 L521.1,48.5 L522.0,48.5 L522.8,48.4 L523.6,48.3 L524.5,48.2 L525.3,48.2 L526.1,48.1 L527.0,48.0 L527.8,47.9 L528.6,47.8 L529.5,47.7 L530.3,47.6 L531.1,47.5 L532.0,47.4 L532.8,47.3 L533.7,47.2 L534.5,47.1 L535.3,46.9 L536.2,46.8 L537.0,46.7" fill="none" stroke="#77ac30" stroke-width="3" stroke-linejoin="round" stroke-linecap="butt"/>
<path d="M320.5,42.1 L321.3,42.1 L322.2,42.2 L323.0,42.2 L323.8,42.2 L324.7,42.2 L325.5,42.3 L326.4,42.3 L327.2,42.3 L328.0,42.3 L328.9,42.3 L329.7,42.3 L330.5,42.3 L331.4,42.3 L332.2,42.3 L333.0,42.3 L333.9,42.3 L334.7,42.3 L335.5,42.3 L336.4,42.3 L337.2,42.3 L338.1,42.2 L338.9,42.2 L339.7,42.2 L340.6,42.2 L341.4,42.1 L342.2,42.1 L343.1,42.1 L343.9,42.0 L344.7,42.0 L345.6,41.9 L346.4,41.9 L347.2,41.9 L348.1,41.8 L348.9,41.8 L349.8,41.7 L350.6,41.7 L351.4,41.6 L352.3,41.6 L353.1,41.5 L353.9,41.5 L354.8,41.4 L355.6,41.3 L356.4,41.3 L357.3,41.2 L358.1,41.2 L359.0,41.1 L359.8,41.1 L360.6,41.0 L361.5,40.9 L362.3,40.9 L363.1,40.8 L364.0,40.7 L364.8,40.7 L365.6,40.6 L366.5,40.6 L367.3,40.5 L368.1,40.4 L369.0,40.4 L369.8,40.3 L370.7,40.3 L371.5,40.2 L372.3,40.2 L373.2,40.1 L374.0,40.1 L374.8,40.0 L375.7,40.0 L376.5,39.9 L377.3,39.9 L378.2,39.9 L379.0,39.8 L379.8,39.8 L380.7,39.8 L381.5,39.8 L382.4,39.7 L383.2,39.7 L384.0,39.7 L384.9,39.7 L385.7,39.8 L386.5,39.8 L387.4,39.8 L388.2,39.8 L389.0,39.9 L389.9,39.9 L390.7,40.0 L391.6,40.1 L392.4,40.2 L393.2,40.3 L394.1,40.4 L394.9,40.5 L395.7,40.7 L396.6,40.9 L397.4,41.1 L398.2,41.3 L399.1,41.5 L399.9,41.8 L400.7,42.1 L401.6,42.4 L402.4,42.8 L403.3,43.3 L404.1,43.7 L404.9,44.3 L405.8,44.9 L406.6,45.6 L407.4,46.3 L408.3,47.2 L409.1,48.2 L409.9,49.3 L410.8,50.6 L411.6,52.0 L412.4,53.7 L413.3,55.6 L414.1,57.8 L415.0,60.4 L415.8,63.4 L416.6,66.9 L417.5,71.0 L418.3,75.8 L419.1,81.5 L420.0,88.0 L420.8,95.5 L421.6,104.0 L422.5,113.2 L423.3,122.6 L424.2,131.1 L425.0,137.5 L425.8,140.2 L426.7,139.3 L427.5,135.8 L428.3,130.4 L429.2,123.7 L430.0,116.5 L430.8,109.2 L431.7,102.2 L432.5,95.8 L433.3,89.9 L434.2,84.7 L435.0,80.1 L435.9,76.0 L436.7,72.5 L437.5,69.3 L438.4,66.6 L439.2,64.2 L440.0,62.0 L440.9,60.2 L441.7,58.5 L442.5,57.1 L443.4,55.8 L444.2,54.7 L445.1,53.7 L445.9,52.8 L446.7,52.0 L447.6,51.3 L448.4,50.7 L449.2,50.1 L450.1,49.7 L450.9,49.2 L451.7,48.8 L452.6,48.5 L453.4,48.2 L454.2,47.9 L455.1,47.7 L455.9,47.5 L456.8,47.3 L457.6,47.2 L458.4,47.0 L459.3,46.9 L460.1,46.8 L460.9,46.7 L461.8,46.7 L462.6,46.6 L463.4,46.6 L464.3,46.6 L465.1,46.6 L465.9,46.6 L466.8,46.6 L467.6,46.6 L468.5,46.6 L469.3,46.6 L470.1,46.6 L471.0,46.7 L471.8,46.7 L472.6,46.8 L473.5,46.8 L474.3,46.9 L475.1,46.9 L476.0,47.0 L476.8,47.0 L477.7,47.1 L478.5,47.1 L479.3,47.2 L480.2,47.3 L481.0,47.3 L481.8,47.4 L482.7,47.5 L483.5,47.5 L484.3,47.6 L485.2,47.7 L486.0,47.7 L486.8,47.8 L487.7,47.9 L488.5,47.9 L489.4,48.0 L490.2,48.0 L491.0,48.1 L491.9,48.2 L492.7,48.2 L493.5,48.3 L494.4,48.3 L495.2,48.4 L496.0,48.4 L496.9,48.4 L497.7,48.5 L498.5,48.5 L499.4,48.6 L500.2,48.6 L501.1,48.6 L501.9,48.6 L502.7,48.7 L503.6,48.7 L504.4,48.7 L505.2,48.7 L506.1,48.7 L506.9,48.7 L507.7,48.7 L508.6,48.7 L509.4,48.7 L510.3,48.7 L511.1,48.7 L511.9,48.7 L512.8,48.7 L513.6,48.7 L514.4,48.6 L515.3,48.6 L516.1,48.6 L516.9,48.5 L517.8,48.5 L518.6,48.5 L519.4,48.4 L520.3,48.4 L521.1,48.3 L522.0,48.3 L522.8,48.2 L523.6,48.1 L524.5,48.1 L525.3,48.0 L526.1,47.9 L527.0,47.8 L527.8,47.7 L528.6,47.7 L529.5,47.6 L530.3,47.5 L531.1,47.4 L532.0,47.3 L532.8,47.1 L533.7,47.0 L534.5,46.9 L535.3,46.8 L536.2,46.7 L537.0,46.5" fill="none" stroke="#4dbeee" stroke-width="3" stroke-linejoin="round" stroke-linecap="butt"/>
<path d="M320.5,42.2 L321.3,42.2 L322.2,42.3 L323.0,42.3 L323.8,42.3 L324.7,42.4 L325.5,42.4 L326.4,42.4 L327.2,42.4 L328.0,42.4 L328.9,42.5 L329.7,42.5 L330.5,42.5 L331.4,42.5 L332.2,42.5 L333.0,42.5 L333.9,42.5 L334.7,42.5 L335.5,42.5 L336.4,42.4 L337.2,42.4 L338.1,42.4 L338.9,42.4 L339.7,42.4 L340.6,42.4 L341.4,42.3 L342.2,42.3 L343.1,42.3 L343.9,42.3 L344.7,42.2 L345.6,42.2 L346.4,42.2 L347.2,42.1 L348.1,42.1 L348.9,42.0 L349.8,42.0 L350.6,42.0 L351.4,41.9 L352.3,41.9 L353.1,41.8 L353.9,41.8 L354.8,41.8 L355.6,41.7 L356.4,41.7 L357.3,41.6 L358.1,41.6 L359.0,41.6 L359.8,41.5 L360.6,41.5 L361.5,41.4 L362.3,41.4 L363.1,41.4 L364.0,41.3 L364.8,41.3 L365.6,41.2 L366.5,41.2 L367.3,41.2 L368.1,41.2 L369.0,41.1 L369.8,41.1 L370.7,41.1 L371.5,41.1 L372.3,41.1 L373.2,41.1 L374.0,41.1 L374.8,41.1 L375.7,41.1 L376.5,41.2 L377.3,41.2 L378.2,41.2 L379.0,41.3 L379.8,41.4 L380.7,41.4 L381.5,41.5 L382.4,41.7 L383.2,41.8 L384.0,41.9 L384.9,42.1 L385.7,42.3 L386.5,42.5 L387.4,42.7 L388.2,43.0 L389.0,43.3 L389.9,43.7 L390.7,44.1 L391.6,44.5 L392.4,45.0 L393.2,45.6 L394.1,46.2 L394.9,46.9 L395.7,47.8 L396.6,48.7 L397.4,49.8 L398.2,51.0 L399.1,52.5 L399.9,54.1 L400.7,56.0 L401.6,58.2 L402.4,60.8 L403.3,63.7 L404.1,67.2 L404.9,71.3 L405.8,76.1 L406.6,81.7 L407.4,88.1 L408.3,95.4 L409.1,103.5 L409.9,112.1 L410.8,120.5 L411.6,127.7 L412.4,132.6 L413.3,133.9 L414.1,132.4 L415.0,128.7 L415.8,123.4 L416.6,117.1 L417.5,110.4 L418.3,103.6 L419.1,97.2 L420.0,91.3 L420.8,85.9 L421.6,81.0 L422.5,76.7 L423.3,72.9 L424.2,69.6 L425.0,66.6 L425.8,64.0 L426.7,61.7 L427.5,59.7 L428.3,57.9 L429.2,56.3 L430.0,54.9 L430.8,53.7 L431.7,52.6 L432.5,51.6 L433.3,50.7 L434.2,49.9 L435.0,49.2 L435.9,48.6 L436.7,48.1 L437.5,47.6 L438.4,47.1 L439.2,46.7 L440.0,46.4 L440.9,46.1 L441.7,45.8 L442.5,45.6 L443.4,45.3 L444.2,45.1 L445.1,45.0 L445.9,44.8 L446.7,44.7 L447.6,44.6 L448.4,44.5 L449.2,44.4 L450.1,44.4 L450.9,44.3 L451.7,44.3 L452.6,44.3 L453.4,44.3 L454.2,44.3 L455.1,44.3 L455.9,44.3 L456.8,44.3 L457.6,44.4 L458.4,44.4 L459.3,44.5 L460.1,44.5 L460.9,44.6 L461.8,44.6 L462.6,44.7 L463.4,44.8 L464.3,44.8 L465.1,44.9 L465.9,45.0 L466.8,45.1 L467.6,45.2 L468.5,45.2 L469.3,45.3 L470.1,45.4 L471.0,45.5 L471.8,45.6 L472.6,45.7 L473.5,45.8 L474.3,45.9 L475.1,46.0 L476.0,46.1 L476.8,46.2 L477.7,46.3 L478.5,46.4 L479.3,46.5 L480.2,46.6 L481.0,46.7 L481.8,46.7 L482.7,46.8 L483.5,46.9 L484.3,47.0 L485.2,47.1 L486.0,47.2 L486.8,47.3 L487.7,47.4 L488.5,47.4 L489.4,47.5 L490.2,47.6 L491.0,47.7 L491.9,47.7 L492.7,47.8 L493.5,47.9 L494.4,47.9 L495.2,48.0 L496.0,48.0 L496.9,48.1 L497.7,48.1 L498.5,48.2 L499.4,48.2 L500.2,48.3 L501.1,48.3 L501.9,48.3 L502.7,48.4 L503.6,48.4 L504.4,48.4 L505.2,48.4 L506.1,48.5 L506.9,48.5 L507.7,48.5 L508.6,48.5 L509.4,48.5 L510.3,48.5 L511.1,48.5 L511.9,48.5 L512.8,48.5 L513.6,48.5 L514.4,48.4 L515.3,48.4 L516.1,48.4 L516.9,48.4 L517.8,48.3 L518.6,48.3 L519.4,48.3 L520.3,48.2 L521.1,48.2 L522.0,48.1 L522.8,48.0 L523.6,48.0 L524.5,47.9 L525.3,47.8 L526.1,47.8 L527.0,47.7 L527.8,47.6 L528.6,47.5 L529.5,47.4 L530.3,47.3 L531.1,47.2 L532.0,47.1 L532.8,47.0 L533.7,46.9 L534.5,46.8 L535.3,46.7 L536.2,46.6 L537.0,46.4" fill="none" stroke="#a2142f" stroke-width="3" stroke-linejoin="round" stroke-linecap="butt"/>
<rect x="333.4" y="93.1" width="57.8" height="66.8" fill="#fff" stroke="#a8a8a8" stroke-width="0.7"/>
<line x1="335.7" y1="98.80" x2="350.8" y2="98.80" stroke="#0072bd" stroke-width="2.5"/>
<text x="352.6" y="101.7" font-size="8.2" text-anchor="start" font-weight="bold" fill="#111" textLength="30.1" lengthAdjust="spacingAndGlyphs">0 mmHg</text>
<line x1="335.7" y1="108.18" x2="350.8" y2="108.18" stroke="#d95319" stroke-width="2.5"/>
<text x="352.6" y="111.08" font-size="8.2" text-anchor="start" font-weight="bold" fill="#111" textLength="36.4" lengthAdjust="spacingAndGlyphs">1.5 mmHg</text>
<line x1="335.7" y1="117.56" x2="350.8" y2="117.56" stroke="#edb120" stroke-width="2.5"/>
<text x="352.6" y="120.46000000000001" font-size="8.2" text-anchor="start" font-weight="bold" fill="#111" textLength="30.1" lengthAdjust="spacingAndGlyphs">3 mmHg</text>
<line x1="335.7" y1="126.94" x2="350.8" y2="126.94" stroke="#7e2f8e" stroke-width="2.5"/>
<text x="352.6" y="129.84" font-size="8.2" text-anchor="start" font-weight="bold" fill="#111" textLength="36.4" lengthAdjust="spacingAndGlyphs">4.5 mmHg</text>
<line x1="335.7" y1="136.32" x2="350.8" y2="136.32" stroke="#77ac30" stroke-width="2.5"/>
<text x="352.6" y="139.22" font-size="8.2" text-anchor="start" font-weight="bold" fill="#111" textLength="30.1" lengthAdjust="spacingAndGlyphs">6 mmHg</text>
<line x1="335.7" y1="145.70" x2="350.8" y2="145.70" stroke="#4dbeee" stroke-width="2.5"/>
<text x="352.6" y="148.6" font-size="8.2" text-anchor="start" font-weight="bold" fill="#111" textLength="36.4" lengthAdjust="spacingAndGlyphs">7.5 mmHg</text>
<line x1="335.7" y1="155.08" x2="350.8" y2="155.08" stroke="#a2142f" stroke-width="2.5"/>
<text x="352.6" y="157.98" font-size="8.2" text-anchor="start" font-weight="bold" fill="#111" textLength="30.1" lengthAdjust="spacingAndGlyphs">9 mmHg</text>
<rect x="43.5" y="250" width="213.0" height="160" fill="#fff" stroke="#b2b2b2" stroke-width="0.8"/>
<line x1="86.10" y1="410" x2="86.10" y2="407.8" stroke="#b2b2b2" stroke-width="0.8"/>
<line x1="128.70" y1="410" x2="128.70" y2="407.8" stroke="#b2b2b2" stroke-width="0.8"/>
<line x1="171.30" y1="410" x2="171.30" y2="407.8" stroke="#b2b2b2" stroke-width="0.8"/>
<line x1="213.90" y1="410" x2="213.90" y2="407.8" stroke="#b2b2b2" stroke-width="0.8"/>
<line x1="43.5" y1="378.00" x2="45.7" y2="378.00" stroke="#b2b2b2" stroke-width="0.8"/>
<line x1="43.5" y1="346.00" x2="45.7" y2="346.00" stroke="#b2b2b2" stroke-width="0.8"/>
<line x1="43.5" y1="314.00" x2="45.7" y2="314.00" stroke="#b2b2b2" stroke-width="0.8"/>
<line x1="43.5" y1="282.00" x2="45.7" y2="282.00" stroke="#b2b2b2" stroke-width="0.8"/>
<text x="39.7" y="414.6" font-size="12" text-anchor="end" font-weight="normal" fill="#262626">200</text>
<text x="39.7" y="382.6" font-size="12" text-anchor="end" font-weight="normal" fill="#262626">250</text>
<text x="39.7" y="350.6" font-size="12" text-anchor="end" font-weight="normal" fill="#262626">300</text>
<text x="39.7" y="318.6" font-size="12" text-anchor="end" font-weight="normal" fill="#262626">350</text>
<text x="39.7" y="286.6" font-size="12" text-anchor="end" font-weight="normal" fill="#262626">400</text>
<text x="39.7" y="254.6" font-size="12" text-anchor="end" font-weight="normal" fill="#262626">450</text>
<text x="43.5" y="425.6" font-size="12" text-anchor="middle" font-weight="normal" fill="#262626">0</text>
<text x="86.1" y="425.6" font-size="12" text-anchor="middle" font-weight="normal" fill="#262626">2</text>
<text x="128.7" y="425.6" font-size="12" text-anchor="middle" font-weight="normal" fill="#262626">4</text>
<text x="171.3" y="425.6" font-size="12" text-anchor="middle" font-weight="normal" fill="#262626">6</text>
<text x="213.9" y="425.6" font-size="12" text-anchor="middle" font-weight="normal" fill="#262626">8</text>
<text x="256.5" y="425.6" font-size="12" text-anchor="middle" font-weight="normal" fill="#262626">10</text>
<text x="150.2" y="441.7" font-size="13.6" text-anchor="middle" font-weight="bold" fill="#262626" textLength="114.5" lengthAdjust="spacingAndGlyphs">Pressure (mmHg)</text>
<text x="14" y="330.3" font-size="13.6" text-anchor="middle" font-weight="bold" fill="#262626" textLength="110.3" lengthAdjust="spacingAndGlyphs" transform="rotate(-90 14 330.3)">Frequency (MHz)</text>
<text x="7.8" y="238.2" font-size="14" text-anchor="start" font-weight="normal" fill="#000" textLength="15.6" lengthAdjust="spacingAndGlyphs" stroke="#000" stroke-width="0.3">(c)</text>
<path d="M43.5,284.6 L47.1,285.7 L50.7,286.9 L54.3,287.9 L57.9,289.0 L61.6,290.0 L65.2,290.9 L68.8,291.9 L72.4,292.8 L76.0,293.6 L79.6,294.5 L83.2,295.3 L86.8,296.1 L90.4,296.9 L94.0,297.7 L97.7,298.5 L101.3,299.3 L104.9,300.0 L108.5,300.8 L112.1,301.6 L115.7,302.3 L119.3,303.1 L122.9,303.9 L126.5,304.7 L130.1,305.5 L133.8,306.3 L137.4,307.1 L141.0,308.0 L144.6,308.9 L148.2,309.8 L151.8,310.7 L155.4,311.6 L159.0,312.5 L162.6,313.4 L166.2,314.3 L169.9,315.2 L173.5,316.1 L177.1,317.0 L180.7,317.9 L184.3,318.8 L187.9,319.7 L191.5,320.6 L195.1,321.5 L198.7,322.4 L202.3,323.4 L206.0,324.3 L209.6,325.2 L213.2,326.2 L216.8,327.1 L220.4,328.0 L224.0,328.9 L227.6,329.8 L231.2,330.7 L234.8,331.5 L238.4,332.3 L242.1,333.0 L245.7,333.7 L249.3,334.4 L252.9,334.9 L256.5,335.4" fill="none" stroke="#ff8c8c" stroke-width="0.8"/>
<path d="M43.5,276.2 V292.9 M42.2,276.2 h2.6 M42.2,292.9 h2.6" fill="none" stroke="#ff8c8c" stroke-width="0.7"/>
<circle cx="43.5" cy="284.6" r="1.75" fill="#ff0000"/>
<path d="M75.5,283.3 V303.8 M74.2,283.3 h2.6 M74.2,303.8 h2.6" fill="none" stroke="#ff8c8c" stroke-width="0.7"/>
<circle cx="75.5" cy="293.5" r="1.75" fill="#ff0000"/>
<path d="M107.4,289.0 V312.1 M106.1,289.0 h2.6 M106.1,312.1 h2.6" fill="none" stroke="#ff8c8c" stroke-width="0.7"/>
<circle cx="107.4" cy="300.6" r="1.75" fill="#ff0000"/>
<path d="M139.3,296.1 V319.1 M138.0,296.1 h2.6 M138.0,319.1 h2.6" fill="none" stroke="#ff8c8c" stroke-width="0.7"/>
<circle cx="139.3" cy="307.6" r="1.75" fill="#ff0000"/>
<path d="M171.3,305.0 V326.2 M170.0,305.0 h2.6 M170.0,326.2 h2.6" fill="none" stroke="#ff8c8c" stroke-width="0.7"/>
<circle cx="171.3" cy="315.6" r="1.75" fill="#ff0000"/>
<path d="M203.2,315.0 V332.2 M201.9,315.0 h2.6 M201.9,332.2 h2.6" fill="none" stroke="#ff8c8c" stroke-width="0.7"/>
<circle cx="203.2" cy="323.6" r="1.75" fill="#ff0000"/>
<path d="M235.2,326.2 V337.0 M233.9,326.2 h2.6 M233.9,337.0 h2.6" fill="none" stroke="#ff8c8c" stroke-width="0.7"/>
<circle cx="235.2" cy="331.6" r="1.75" fill="#ff0000"/>
<text x="97.6" y="357.8" font-size="11" text-anchor="start" font-weight="normal" fill="#ff0000" textLength="90.4" lengthAdjust="spacingAndGlyphs" stroke="#ff0000" stroke-width="0.35">−8.03 MHz/mmHg</text>
<rect x="318.5" y="250" width="218.5" height="161" fill="#fff" stroke="#b2b2b2" stroke-width="0.8"/>
<line x1="349.71" y1="411" x2="349.71" y2="408.8" stroke="#b2b2b2" stroke-width="0.8"/>
<line x1="427.75" y1="411" x2="427.75" y2="408.8" stroke="#b2b2b2" stroke-width="0.8"/>
<line x1="505.79" y1="411" x2="505.79" y2="408.8" stroke="#b2b2b2" stroke-width="0.8"/>
<line x1="318.5" y1="290.25" x2="320.7" y2="290.25" stroke="#b2b2b2" stroke-width="0.8"/>
<line x1="318.5" y1="330.50" x2="320.7" y2="330.50" stroke="#b2b2b2" stroke-width="0.8"/>
<line x1="318.5" y1="370.75" x2="320.7" y2="370.75" stroke="#b2b2b2" stroke-width="0.8"/>
<text x="314.8" y="254.9" font-size="12.2" text-anchor="end" font-weight="normal" fill="#262626">-1</text>
<text x="314.8" y="295.15" font-size="12.2" text-anchor="end" font-weight="normal" fill="#262626">-2</text>
<text x="314.8" y="335.4" font-size="12.2" text-anchor="end" font-weight="normal" fill="#262626">-3</text>
<text x="314.8" y="375.65" font-size="12.2" text-anchor="end" font-weight="normal" fill="#262626">-4</text>
<text x="314.8" y="415.9" font-size="12.2" text-anchor="end" font-weight="normal" fill="#262626">-5</text>
<text x="349.7142857142857" y="427.5" font-size="12.2" text-anchor="middle" font-weight="normal" fill="#262626">300</text>
<text x="427.75" y="427.5" font-size="12.2" text-anchor="middle" font-weight="normal" fill="#262626">350</text>
<text x="505.7857142857143" y="427.5" font-size="12.2" text-anchor="middle" font-weight="normal" fill="#262626">400</text>
<text x="427.8" y="442" font-size="12.4" text-anchor="middle" font-weight="bold" fill="#262626" textLength="99.7" lengthAdjust="spacingAndGlyphs">Frequency (MHz)</text>
<text x="298.7" y="330.3" font-size="12.3" text-anchor="middle" font-weight="bold" fill="#262626" textLength="49.4" lengthAdjust="spacingAndGlyphs" transform="rotate(-90 298.7 330.3)">S11 (dB)</text>
<text x="288.7" y="237.7" font-size="14.6" text-anchor="start" font-weight="normal" fill="#000" textLength="16.9" lengthAdjust="spacingAndGlyphs" stroke="#000" stroke-width="0.3">(d)</text>
<clipPath id="cd"><rect x="318.5" y="250" width="218.5" height="161"/></clipPath>
<g clip-path="url(#cd)">
<path d="M318.3,274.5 L319.3,274.4 L320.3,274.3 L321.3,274.2 L322.3,274.1 L323.3,274.0 L324.3,273.9 L325.3,273.7 L326.3,273.6 L327.3,273.5 L328.3,273.4 L329.3,273.3 L330.3,273.2 L331.3,273.1 L332.3,273.0 L333.3,272.8 L334.3,272.7 L335.3,272.6 L336.3,272.5 L337.3,272.4 L338.3,272.3 L339.3,272.2 L340.3,272.2 L341.3,272.1 L342.3,272.0 L343.3,271.9 L344.3,271.9 L345.3,271.8 L346.3,271.8 L347.3,271.7 L348.3,271.7 L349.3,271.6 L350.3,271.6 L351.3,271.6 L352.3,271.6 L353.3,271.6 L354.3,271.6 L355.3,271.7 L356.3,271.7 L357.3,271.8 L358.3,271.8 L359.3,271.9 L360.3,272.0 L361.3,272.1 L362.3,272.3 L363.3,272.4 L364.3,272.6 L365.3,272.8 L366.3,273.0 L367.3,273.3 L368.3,273.5 L369.3,273.8 L370.3,274.1 L371.3,274.4 L372.3,274.8 L373.4,275.1 L374.4,275.5 L375.4,275.9 L376.4,276.4 L377.4,276.8 L378.4,277.3 L379.4,277.8 L380.4,278.3 L381.4,278.8 L382.4,279.4 L383.4,279.9 L384.4,280.5 L385.4,281.1 L386.4,281.7 L387.4,282.3 L388.4,282.9 L389.4,283.6 L390.4,284.2 L391.4,284.8 L392.4,285.4 L393.4,286.1 L394.4,286.7 L395.4,287.3 L396.4,287.9 L397.4,288.4 L398.4,289.0 L399.4,289.5 L400.4,290.1 L401.4,290.6 L402.4,291.1 L403.4,291.6 L404.4,292.1 L405.4,292.6 L406.4,293.1 L407.4,293.5 L408.4,294.0 L409.4,294.5 L410.4,294.9 L411.4,295.3 L412.4,295.7 L413.4,296.2 L414.4,296.6 L415.4,297.0 L416.4,297.3 L417.4,297.7 L418.4,298.0 L419.4,298.4 L420.4,298.7 L421.4,299.0 L422.4,299.3 L423.4,299.6 L424.4,299.8 L425.4,300.1 L426.4,300.3 L427.4,300.6 L428.4,300.8 L429.4,301.1 L430.4,301.3 L431.4,301.5 L432.4,301.8 L433.4,302.0 L434.4,302.2 L435.4,302.4 L436.4,302.5 L437.4,302.7 L438.4,302.8 L439.4,302.9 L440.4,303.0 L441.4,303.1 L442.4,303.1 L443.4,303.2 L444.4,303.2 L445.4,303.3 L446.4,303.3 L447.4,303.4 L448.4,303.5 L449.4,303.6 L450.4,303.7 L451.4,303.8 L452.4,303.9 L453.4,304.0 L454.4,304.2 L455.4,304.3 L456.4,304.5 L457.4,304.7 L458.4,304.9 L459.4,305.1 L460.4,305.4 L461.4,305.8 L462.4,306.3 L463.4,306.8 L464.4,307.4 L465.4,308.1 L466.4,309.0 L467.4,309.9 L468.4,311.0 L469.4,312.2 L470.4,313.5 L471.4,315.0 L472.4,316.6 L473.4,318.4 L474.4,320.2 L475.4,322.3 L476.4,324.4 L477.4,326.7 L478.4,329.1 L479.4,331.6 L480.4,334.1 L481.4,336.6 L482.4,339.0 L483.5,341.5 L484.5,343.8 L485.5,346.0 L486.5,348.0 L487.5,349.7 L488.5,351.2 L489.5,352.4 L490.5,353.2 L491.5,353.6 L492.5,353.5 L493.5,353.0 L494.5,352.0 L495.5,350.5 L496.5,348.5 L497.5,346.0 L498.5,343.1 L499.5,340.0 L500.5,336.9 L501.5,334.1 L502.5,331.6 L503.5,329.3 L504.5,327.2 L505.5,325.1 L506.5,323.0 L507.5,320.9 L508.5,319.0 L509.5,317.2 L510.5,315.7 L511.5,314.4 L512.5,313.3 L513.5,312.4 L514.5,311.6 L515.5,311.0 L516.5,310.5 L517.5,310.2 L518.5,309.9 L519.5,309.6 L520.5,309.5 L521.5,309.3 L522.5,309.2 L523.5,309.2 L524.5,309.1 L525.5,309.0 L526.5,309.0 L527.5,309.0 L528.5,309.0 L529.5,309.0 L530.5,309.1 L531.5,309.2 L532.5,309.4 L533.5,309.7 L534.5,310.0 L535.5,310.4 L536.5,310.9 L537.5,311.4" fill="none" stroke="#0072bd" stroke-width="3" stroke-linejoin="round"/>
<path d="M318.3,274.8 L319.3,274.7 L320.3,274.5 L321.3,274.4 L322.3,274.2 L323.3,274.1 L324.3,274.0 L325.3,273.8 L326.3,273.7 L327.3,273.6 L328.3,273.4 L329.3,273.3 L330.3,273.2 L331.3,273.1 L332.3,273.0 L333.3,272.8 L334.3,272.7 L335.3,272.6 L336.3,272.5 L337.3,272.4 L338.3,272.4 L339.3,272.3 L340.3,272.2 L341.3,272.1 L342.3,272.1 L343.3,272.0 L344.3,271.9 L345.3,271.9 L346.3,271.8 L347.3,271.8 L348.3,271.8 L349.3,271.8 L350.3,271.8 L351.3,271.8 L352.3,271.8 L353.3,271.8 L354.3,271.9 L355.3,272.0 L356.3,272.0 L357.3,272.1 L358.3,272.3 L359.3,272.4 L360.3,272.6 L361.3,272.8 L362.3,273.0 L363.3,273.2 L364.3,273.5 L365.3,273.8 L366.3,274.1 L367.3,274.4 L368.3,274.8 L369.3,275.2 L370.3,275.6 L371.3,276.0 L372.3,276.4 L373.4,276.9 L374.4,277.4 L375.4,277.9 L376.4,278.4 L377.4,278.9 L378.4,279.5 L379.4,280.1 L380.4,280.6 L381.4,281.2 L382.4,281.8 L383.4,282.4 L384.4,283.0 L385.4,283.6 L386.4,284.3 L387.4,284.9 L388.4,285.5 L389.4,286.1 L390.4,286.7 L391.4,287.3 L392.4,287.8 L393.4,288.4 L394.4,288.9 L395.4,289.5 L396.4,290.0 L397.4,290.5 L398.4,291.0 L399.4,291.5 L400.4,292.0 L401.4,292.5 L402.4,293.0 L403.4,293.5 L404.4,294.1 L405.4,294.6 L406.4,295.1 L407.4,295.6 L408.4,296.2 L409.4,296.7 L410.4,297.3 L411.4,297.9 L412.4,298.5 L413.4,299.1 L414.4,299.8 L415.4,300.4 L416.4,301.1 L417.4,301.8 L418.4,302.5 L419.4,303.2 L420.4,303.9 L421.4,304.6 L422.4,305.4 L423.4,306.2 L424.4,307.0 L425.4,307.7 L426.4,308.5 L427.4,309.3 L428.4,310.1 L429.4,310.8 L430.4,311.6 L431.4,312.3 L432.4,313.0 L433.4,313.8 L434.4,314.6 L435.4,315.5 L436.4,316.5 L437.4,317.6 L438.4,318.9 L439.4,320.3 L440.4,321.9 L441.4,323.5 L442.4,325.2 L443.4,326.9 L444.4,328.5 L445.4,330.1 L446.4,331.5 L447.4,332.8 L448.4,334.1 L449.4,335.2 L450.4,336.4 L451.4,337.4 L452.4,338.5 L453.4,339.5 L454.4,340.4 L455.4,341.3 L456.4,342.2 L457.4,343.1 L458.4,343.9 L459.4,344.6 L460.4,345.2 L461.4,345.5 L462.4,345.6 L463.4,345.4 L464.4,344.9 L465.4,344.1 L466.4,343.2 L467.4,342.0 L468.4,340.7 L469.4,339.3 L470.4,337.8 L471.4,336.2 L472.4,334.5 L473.4,332.8 L474.4,331.1 L475.4,329.2 L476.4,327.4 L477.4,325.4 L478.4,323.4 L479.4,321.3 L480.4,319.3 L481.4,317.2 L482.4,315.2 L483.5,313.3 L484.5,311.5 L485.5,309.8 L486.5,308.2 L487.5,306.8 L488.5,305.5 L489.5,304.3 L490.5,303.2 L491.5,302.1 L492.5,301.2 L493.5,300.4 L494.5,299.6 L495.5,299.0 L496.5,298.4 L497.5,297.9 L498.5,297.5 L499.5,297.1 L500.5,296.8 L501.5,296.6 L502.5,296.4 L503.5,296.2 L504.5,296.1 L505.5,296.1 L506.5,296.1 L507.5,296.1 L508.5,296.2 L509.5,296.3 L510.5,296.4 L511.5,296.6 L512.5,296.7 L513.5,296.9 L514.5,297.2 L515.5,297.5 L516.5,297.8 L517.5,298.1 L518.5,298.5 L519.5,298.9 L520.5,299.3 L521.5,299.7 L522.5,300.2 L523.5,300.7 L524.5,301.2 L525.5,301.8 L526.5,302.3 L527.5,302.9 L528.5,303.5 L529.5,304.0 L530.5,304.6 L531.5,305.2 L532.5,305.8 L533.5,306.3 L534.5,306.9 L535.5,307.4 L536.5,308.0 L537.5,308.5" fill="none" stroke="#d95319" stroke-width="3" stroke-linejoin="round"/>
<path d="M318.3,275.2 L319.3,275.0 L320.3,274.8 L321.3,274.6 L322.3,274.4 L323.3,274.2 L324.3,274.0 L325.3,273.9 L326.3,273.7 L327.3,273.6 L328.3,273.5 L329.3,273.3 L330.3,273.2 L331.3,273.1 L332.3,273.0 L333.3,272.9 L334.3,272.8 L335.3,272.7 L336.3,272.6 L337.3,272.6 L338.3,272.5 L339.3,272.4 L340.3,272.3 L341.3,272.3 L342.3,272.2 L343.3,272.1 L344.3,272.1 L345.3,272.0 L346.3,271.9 L347.3,271.9 L348.3,271.9 L349.3,271.9 L350.3,271.9 L351.3,271.9 L352.3,271.9 L353.3,272.0 L354.3,272.1 L355.3,272.2 L356.3,272.3 L357.3,272.5 L358.3,272.7 L359.3,273.0 L360.3,273.2 L361.3,273.6 L362.3,273.9 L363.3,274.3 L364.3,274.7 L365.3,275.1 L366.3,275.6 L367.3,276.0 L368.3,276.5 L369.3,277.0 L370.3,277.5 L371.3,278.0 L372.3,278.5 L373.4,279.0 L374.4,279.5 L375.4,280.0 L376.4,280.5 L377.4,281.1 L378.4,281.6 L379.4,282.1 L380.4,282.7 L381.4,283.3 L382.4,283.8 L383.4,284.4 L384.4,285.1 L385.4,285.7 L386.4,286.4 L387.4,287.1 L388.4,287.8 L389.4,288.6 L390.4,289.3 L391.4,290.2 L392.4,291.0 L393.4,291.9 L394.4,292.7 L395.4,293.7 L396.4,294.6 L397.4,295.6 L398.4,296.6 L399.4,297.7 L400.4,298.7 L401.4,299.8 L402.4,301.0 L403.4,302.1 L404.4,303.4 L405.4,304.6 L406.4,305.9 L407.4,307.3 L408.4,308.7 L409.4,310.1 L410.4,311.6 L411.4,313.1 L412.4,314.7 L413.4,316.3 L414.4,318.0 L415.4,319.7 L416.4,321.4 L417.4,323.1 L418.4,324.8 L419.4,326.6 L420.4,328.4 L421.4,330.2 L422.4,332.1 L423.4,334.1 L424.4,336.1 L425.4,338.2 L426.4,340.3 L427.4,342.4 L428.4,344.4 L429.4,346.4 L430.4,348.2 L431.4,349.8 L432.4,351.3 L433.4,352.6 L434.4,353.8 L435.4,355.0 L436.4,355.9 L437.4,356.2 L438.4,355.7 L439.4,354.4 L440.4,353.0 L441.4,351.5 L442.4,350.1 L443.4,348.7 L444.4,347.2 L445.4,345.6 L446.4,344.0 L447.4,342.3 L448.4,340.4 L449.4,338.5 L450.4,336.5 L451.4,334.3 L452.4,332.1 L453.4,329.8 L454.4,327.6 L455.4,325.3 L456.4,323.2 L457.4,321.2 L458.4,319.3 L459.4,317.5 L460.4,315.9 L461.4,314.3 L462.4,312.8 L463.4,311.4 L464.4,310.1 L465.4,308.8 L466.4,307.5 L467.4,306.4 L468.4,305.2 L469.4,304.1 L470.4,303.1 L471.4,302.1 L472.4,301.1 L473.4,300.2 L474.4,299.3 L475.4,298.5 L476.4,297.8 L477.4,297.0 L478.4,296.3 L479.4,295.7 L480.4,295.0 L481.4,294.4 L482.4,293.9 L483.5,293.4 L484.5,292.9 L485.5,292.4 L486.5,292.0 L487.5,291.7 L488.5,291.4 L489.5,291.1 L490.5,290.9 L491.5,290.8 L492.5,290.7 L493.5,290.6 L494.5,290.6 L495.5,290.5 L496.5,290.6 L497.5,290.6 L498.5,290.7 L499.5,290.8 L500.5,290.9 L501.5,291.0 L502.5,291.2 L503.5,291.3 L504.5,291.5 L505.5,291.7 L506.5,292.0 L507.5,292.2 L508.5,292.5 L509.5,292.8 L510.5,293.2 L511.5,293.5 L512.5,293.9 L513.5,294.3 L514.5,294.8 L515.5,295.2 L516.5,295.7 L517.5,296.2 L518.5,296.7 L519.5,297.3 L520.5,297.8 L521.5,298.4 L522.5,299.0 L523.5,299.6 L524.5,300.2 L525.5,300.8 L526.5,301.4 L527.5,302.0 L528.5,302.7 L529.5,303.3 L530.5,304.0 L531.5,304.6 L532.5,305.3 L533.5,305.9 L534.5,306.6 L535.5,307.2 L536.5,307.9 L537.5,308.5" fill="none" stroke="#edb120" stroke-width="3" stroke-linejoin="round"/>
<path d="M318.3,277.1 L319.3,277.1 L320.3,277.0 L321.3,276.9 L322.3,276.8 L323.3,276.7 L324.3,276.6 L325.3,276.5 L326.3,276.3 L327.3,276.1 L328.3,276.0 L329.3,275.8 L330.3,275.6 L331.3,275.4 L332.3,275.2 L333.3,275.0 L334.3,274.9 L335.3,274.7 L336.3,274.5 L337.3,274.4 L338.3,274.2 L339.3,274.1 L340.3,273.9 L341.3,273.8 L342.3,273.8 L343.3,273.7 L344.3,273.6 L345.3,273.6 L346.3,273.6 L347.3,273.7 L348.3,273.7 L349.3,273.8 L350.3,273.9 L351.3,274.1 L352.3,274.3 L353.3,274.5 L354.3,274.8 L355.3,275.1 L356.3,275.4 L357.3,275.8 L358.3,276.1 L359.3,276.5 L360.3,277.0 L361.3,277.4 L362.3,277.9 L363.3,278.4 L364.3,278.9 L365.3,279.4 L366.3,279.9 L367.3,280.4 L368.3,281.0 L369.3,281.5 L370.3,282.0 L371.3,282.6 L372.3,283.1 L373.4,283.6 L374.4,284.1 L375.4,284.6 L376.4,285.2 L377.4,285.8 L378.4,286.6 L379.4,287.4 L380.4,288.4 L381.4,289.5 L382.4,290.8 L383.4,292.3 L384.4,294.0 L385.4,295.8 L386.4,297.8 L387.4,299.8 L388.4,302.0 L389.4,304.2 L390.4,306.5 L391.4,308.8 L392.4,311.2 L393.4,313.5 L394.4,315.9 L395.4,318.2 L396.4,320.4 L397.4,322.6 L398.4,324.7 L399.4,326.7 L400.4,328.5 L401.4,330.3 L402.4,331.9 L403.4,333.6 L404.4,335.2 L405.4,336.9 L406.4,338.8 L407.4,340.7 L408.4,342.7 L409.4,344.7 L410.4,346.5 L411.4,348.1 L412.4,349.5 L413.4,350.6 L414.4,351.4 L415.4,351.8 L416.4,351.9 L417.4,351.7 L418.4,351.2 L419.4,350.5 L420.4,349.5 L421.4,348.4 L422.4,347.0 L423.4,345.6 L424.4,343.9 L425.4,342.2 L426.4,340.3 L427.4,338.4 L428.4,336.3 L429.4,334.3 L430.4,332.4 L431.4,330.5 L432.4,328.7 L433.4,327.1 L434.4,325.7 L435.4,324.3 L436.4,323.1 L437.4,321.9 L438.4,320.8 L439.4,319.7 L440.4,318.7 L441.4,317.7 L442.4,316.8 L443.4,315.8 L444.4,314.9 L445.4,313.9 L446.4,312.9 L447.4,311.8 L448.4,310.8 L449.4,309.6 L450.4,308.5 L451.4,307.4 L452.4,306.2 L453.4,305.1 L454.4,304.0 L455.4,303.0 L456.4,302.0 L457.4,301.0 L458.4,300.1 L459.4,299.3 L460.4,298.6 L461.4,297.8 L462.4,297.2 L463.4,296.5 L464.4,295.9 L465.4,295.3 L466.4,294.8 L467.4,294.3 L468.4,293.8 L469.4,293.3 L470.4,292.8 L471.4,292.4 L472.4,292.0 L473.4,291.6 L474.4,291.3 L475.4,290.9 L476.4,290.6 L477.4,290.3 L478.4,290.0 L479.4,289.7 L480.4,289.5 L481.4,289.3 L482.4,289.1 L483.5,288.9 L484.5,288.7 L485.5,288.6 L486.5,288.5 L487.5,288.4 L488.5,288.3 L489.5,288.2 L490.5,288.2 L491.5,288.2 L492.5,288.2 L493.5,288.2 L494.5,288.3 L495.5,288.3 L496.5,288.4 L497.5,288.5 L498.5,288.6 L499.5,288.7 L500.5,288.8 L501.5,288.9 L502.5,289.0 L503.5,289.2 L504.5,289.4 L505.5,289.6 L506.5,289.8 L507.5,290.0 L508.5,290.3 L509.5,290.7 L510.5,291.0 L511.5,291.4 L512.5,291.8 L513.5,292.3 L514.5,292.8 L515.5,293.3 L516.5,293.8 L517.5,294.4 L518.5,294.9 L519.5,295.5 L520.5,296.1 L521.5,296.8 L522.5,297.4 L523.5,298.1 L524.5,298.8 L525.5,299.4 L526.5,300.1 L527.5,300.8 L528.5,301.5 L529.5,302.2 L530.5,302.9 L531.5,303.6 L532.5,304.2 L533.5,304.9 L534.5,305.6 L535.5,306.2 L536.5,306.9 L537.5,307.5" fill="none" stroke="#7e2f8e" stroke-width="3" stroke-linejoin="round"/>
<path d="M318.3,278.9 L319.3,278.7 L320.3,278.6 L321.3,278.4 L322.3,278.3 L323.3,278.1 L324.3,277.9 L325.3,277.8 L326.3,277.6 L327.3,277.4 L328.3,277.2 L329.3,277.0 L330.3,276.9 L331.3,276.7 L332.3,276.6 L333.3,276.4 L334.3,276.3 L335.3,276.2 L336.3,276.1 L337.3,276.0 L338.3,275.9 L339.3,275.8 L340.3,275.8 L341.3,275.8 L342.3,275.8 L343.3,275.8 L344.3,275.9 L345.3,276.0 L346.3,276.1 L347.3,276.2 L348.3,276.4 L349.3,276.6 L350.3,276.9 L351.3,277.2 L352.3,277.5 L353.3,277.8 L354.3,278.2 L355.3,278.7 L356.3,279.2 L357.3,279.8 L358.3,280.4 L359.3,281.2 L360.3,282.0 L361.3,282.9 L362.3,284.0 L363.3,285.1 L364.3,286.4 L365.3,287.8 L366.3,289.4 L367.3,291.0 L368.3,292.8 L369.3,294.7 L370.3,296.8 L371.3,298.9 L372.3,301.2 L373.4,303.6 L374.4,306.2 L375.4,308.9 L376.4,311.7 L377.4,314.6 L378.4,317.6 L379.4,320.6 L380.4,323.6 L381.4,326.4 L382.4,329.1 L383.4,331.5 L384.4,333.6 L385.4,335.5 L386.4,337.2 L387.4,338.8 L388.4,340.2 L389.4,341.3 L390.4,341.8 L391.4,341.6 L392.4,340.8 L393.4,339.5 L394.4,338.0 L395.4,336.3 L396.4,334.6 L397.4,332.8 L398.4,331.0 L399.4,329.3 L400.4,327.7 L401.4,326.2 L402.4,324.8 L403.4,323.5 L404.4,322.4 L405.4,321.4 L406.4,320.5 L407.4,319.7 L408.4,318.9 L409.4,318.1 L410.4,317.3 L411.4,316.5 L412.4,315.8 L413.4,315.0 L414.4,314.2 L415.4,313.4 L416.4,312.6 L417.4,311.8 L418.4,311.0 L419.4,310.3 L420.4,309.7 L421.4,309.0 L422.4,308.5 L423.4,308.0 L424.4,307.6 L425.4,307.2 L426.4,306.8 L427.4,306.5 L428.4,306.2 L429.4,306.0 L430.4,305.7 L431.4,305.4 L432.4,305.1 L433.4,304.8 L434.4,304.5 L435.4,304.1 L436.4,303.8 L437.4,303.5 L438.4,303.2 L439.4,302.9 L440.4,302.6 L441.4,302.3 L442.4,302.0 L443.4,301.7 L444.4,301.5 L445.4,301.2 L446.4,300.9 L447.4,300.7 L448.4,300.4 L449.4,300.0 L450.4,299.7 L451.4,299.3 L452.4,298.9 L453.4,298.4 L454.4,298.0 L455.4,297.5 L456.4,297.1 L457.4,296.6 L458.4,296.1 L459.4,295.6 L460.4,295.1 L461.4,294.6 L462.4,294.1 L463.4,293.6 L464.4,293.1 L465.4,292.7 L466.4,292.2 L467.4,291.8 L468.4,291.4 L469.4,291.0 L470.4,290.6 L471.4,290.2 L472.4,289.9 L473.4,289.6 L474.4,289.3 L475.4,289.1 L476.4,288.8 L477.4,288.6 L478.4,288.4 L479.4,288.2 L480.4,288.0 L481.4,287.9 L482.4,287.7 L483.5,287.6 L484.5,287.5 L485.5,287.4 L486.5,287.3 L487.5,287.3 L488.5,287.2 L489.5,287.2 L490.5,287.3 L491.5,287.3 L492.5,287.4 L493.5,287.4 L494.5,287.6 L495.5,287.7 L496.5,287.8 L497.5,287.9 L498.5,288.1 L499.5,288.2 L500.5,288.3 L501.5,288.5 L502.5,288.7 L503.5,288.8 L504.5,289.0 L505.5,289.2 L506.5,289.5 L507.5,289.7 L508.5,290.0 L509.5,290.4 L510.5,290.7 L511.5,291.1 L512.5,291.5 L513.5,292.0 L514.5,292.5 L515.5,293.0 L516.5,293.5 L517.5,294.1 L518.5,294.6 L519.5,295.2 L520.5,295.9 L521.5,296.5 L522.5,297.1 L523.5,297.8 L524.5,298.4 L525.5,299.1 L526.5,299.8 L527.5,300.5 L528.5,301.1 L529.5,301.8 L530.5,302.5 L531.5,303.2 L532.5,303.8 L533.5,304.5 L534.5,305.1 L535.5,305.8 L536.5,306.4 L537.5,307.0" fill="none" stroke="#77ac30" stroke-width="3" stroke-linejoin="round"/>
<path d="M318.3,279.8 L319.3,279.5 L320.3,279.3 L321.3,279.1 L322.3,278.9 L323.3,278.7 L324.3,278.6 L325.3,278.5 L326.3,278.4 L327.3,278.3 L328.3,278.2 L329.3,278.2 L330.3,278.2 L331.3,278.2 L332.3,278.3 L333.3,278.3 L334.3,278.4 L335.3,278.5 L336.3,278.7 L337.3,278.8 L338.3,279.0 L339.3,279.3 L340.3,279.5 L341.3,279.8 L342.3,280.2 L343.3,280.6 L344.3,281.0 L345.3,281.5 L346.3,282.0 L347.3,282.6 L348.3,283.3 L349.3,284.1 L350.3,285.0 L351.3,286.1 L352.3,287.4 L353.3,288.9 L354.3,290.6 L355.3,292.6 L356.3,294.9 L357.3,297.3 L358.3,300.0 L359.3,302.8 L360.3,305.8 L361.3,309.0 L362.3,312.2 L363.3,315.4 L364.3,318.5 L365.3,321.4 L366.3,324.1 L367.3,326.4 L368.3,328.5 L369.3,330.2 L370.3,331.7 L371.3,333.0 L372.3,334.0 L373.4,334.7 L374.4,334.9 L375.4,334.5 L376.4,333.5 L377.4,332.0 L378.4,329.9 L379.4,327.3 L380.4,324.5 L381.4,321.5 L382.4,318.6 L383.4,315.9 L384.4,313.4 L385.4,311.2 L386.4,309.3 L387.4,307.6 L388.4,306.2 L389.4,305.1 L390.4,304.2 L391.4,303.4 L392.4,302.8 L393.4,302.3 L394.4,301.9 L395.4,301.5 L396.4,301.2 L397.4,300.9 L398.4,300.7 L399.4,300.6 L400.4,300.4 L401.4,300.3 L402.4,300.3 L403.4,300.2 L404.4,300.2 L405.4,300.1 L406.4,300.1 L407.4,300.1 L408.4,300.1 L409.4,300.1 L410.4,300.2 L411.4,300.2 L412.4,300.3 L413.4,300.3 L414.4,300.4 L415.4,300.4 L416.4,300.5 L417.4,300.6 L418.4,300.6 L419.4,300.7 L420.4,300.7 L421.4,300.8 L422.4,300.8 L423.4,300.9 L424.4,300.9 L425.4,300.9 L426.4,300.9 L427.4,300.9 L428.4,300.9 L429.4,300.9 L430.4,300.8 L431.4,300.7 L432.4,300.7 L433.4,300.6 L434.4,300.5 L435.4,300.3 L436.4,300.2 L437.4,300.0 L438.4,299.9 L439.4,299.7 L440.4,299.4 L441.4,299.2 L442.4,299.0 L443.4,298.7 L444.4,298.4 L445.4,298.2 L446.4,297.9 L447.4,297.6 L448.4,297.3 L449.4,296.9 L450.4,296.6 L451.4,296.3 L452.4,295.9 L453.4,295.6 L454.4,295.3 L455.4,294.9 L456.4,294.6 L457.4,294.2 L458.4,293.9 L459.4,293.5 L460.4,293.2 L461.4,292.9 L462.4,292.5 L463.4,292.2 L464.4,291.9 L465.4,291.6 L466.4,291.3 L467.4,291.0 L468.4,290.7 L469.4,290.5 L470.4,290.2 L471.4,290.0 L472.4,289.7 L473.4,289.5 L474.4,289.3 L475.4,289.1 L476.4,288.9 L477.4,288.7 L478.4,288.5 L479.4,288.3 L480.4,288.1 L481.4,287.9 L482.4,287.8 L483.5,287.6 L484.5,287.4 L485.5,287.3 L486.5,287.2 L487.5,287.1 L488.5,287.1 L489.5,287.1 L490.5,287.1 L491.5,287.1 L492.5,287.2 L493.5,287.3 L494.5,287.5 L495.5,287.6 L496.5,287.8 L497.5,287.9 L498.5,288.1 L499.5,288.2 L500.5,288.3 L501.5,288.5 L502.5,288.6 L503.5,288.8 L504.5,289.0 L505.5,289.1 L506.5,289.4 L507.5,289.6 L508.5,289.9 L509.5,290.2 L510.5,290.5 L511.5,290.9 L512.5,291.3 L513.5,291.7 L514.5,292.2 L515.5,292.7 L516.5,293.3 L517.5,293.8 L518.5,294.4 L519.5,295.0 L520.5,295.6 L521.5,296.3 L522.5,296.9 L523.5,297.6 L524.5,298.3 L525.5,299.0 L526.5,299.6 L527.5,300.3 L528.5,301.0 L529.5,301.7 L530.5,302.4 L531.5,303.0 L532.5,303.7 L533.5,304.4 L534.5,305.0 L535.5,305.6 L536.5,306.2 L537.5,306.8" fill="none" stroke="#4dbeee" stroke-width="3" stroke-linejoin="round"/>
<path d="M318.3,281.5 L319.3,281.6 L320.3,281.7 L321.3,281.8 L322.3,281.9 L323.3,282.1 L324.3,282.2 L325.3,282.4 L326.3,282.7 L327.3,283.0 L328.3,283.3 L329.3,283.7 L330.3,284.2 L331.3,284.7 L332.3,285.4 L333.3,286.1 L334.3,286.8 L335.3,287.6 L336.3,288.4 L337.3,289.2 L338.3,290.1 L339.3,291.0 L340.3,292.0 L341.3,293.2 L342.3,294.6 L343.3,296.2 L344.3,298.1 L345.3,300.3 L346.3,302.8 L347.3,305.5 L348.3,308.3 L349.3,311.2 L350.3,314.3 L351.3,317.2 L352.3,320.2 L353.3,322.9 L354.3,325.3 L355.3,327.4 L356.3,329.2 L357.3,330.5 L358.3,331.5 L359.3,332.1 L360.3,332.4 L361.3,332.3 L362.3,331.9 L363.3,331.1 L364.3,329.7 L365.3,327.9 L366.3,325.4 L367.3,322.4 L368.3,319.2 L369.3,315.9 L370.3,312.7 L371.3,309.7 L372.3,307.1 L373.4,304.7 L374.4,302.6 L375.4,300.8 L376.4,299.1 L377.4,297.7 L378.4,296.5 L379.4,295.5 L380.4,294.7 L381.4,294.2 L382.4,293.8 L383.4,293.6 L384.4,293.5 L385.4,293.4 L386.4,293.3 L387.4,293.2 L388.4,293.1 L389.4,293.0 L390.4,292.9 L391.4,292.8 L392.4,292.7 L393.4,292.6 L394.4,292.6 L395.4,292.6 L396.4,292.6 L397.4,292.7 L398.4,292.8 L399.4,293.0 L400.4,293.2 L401.4,293.5 L402.4,293.8 L403.4,294.2 L404.4,294.6 L405.4,295.0 L406.4,295.5 L407.4,296.0 L408.4,296.5 L409.4,297.0 L410.4,297.4 L411.4,297.9 L412.4,298.3 L413.4,298.6 L414.4,298.9 L415.4,299.2 L416.4,299.4 L417.4,299.6 L418.4,299.7 L419.4,299.8 L420.4,299.9 L421.4,299.9 L422.4,300.0 L423.4,300.0 L424.4,300.0 L425.4,300.0 L426.4,300.0 L427.4,300.0 L428.4,299.9 L429.4,299.9 L430.4,299.9 L431.4,299.8 L432.4,299.7 L433.4,299.6 L434.4,299.6 L435.4,299.4 L436.4,299.3 L437.4,299.2 L438.4,299.0 L439.4,298.8 L440.4,298.7 L441.4,298.4 L442.4,298.2 L443.4,298.0 L444.4,297.7 L445.4,297.4 L446.4,297.1 L447.4,296.8 L448.4,296.5 L449.4,296.1 L450.4,295.7 L451.4,295.4 L452.4,295.0 L453.4,294.6 L454.4,294.2 L455.4,293.8 L456.4,293.4 L457.4,293.0 L458.4,292.7 L459.4,292.3 L460.4,292.0 L461.4,291.6 L462.4,291.3 L463.4,291.0 L464.4,290.7 L465.4,290.5 L466.4,290.2 L467.4,289.9 L468.4,289.7 L469.4,289.5 L470.4,289.2 L471.4,289.0 L472.4,288.8 L473.4,288.6 L474.4,288.4 L475.4,288.2 L476.4,288.0 L477.4,287.8 L478.4,287.6 L479.4,287.5 L480.4,287.3 L481.4,287.1 L482.4,287.0 L483.5,286.9 L484.5,286.7 L485.5,286.6 L486.5,286.6 L487.5,286.5 L488.5,286.5 L489.5,286.5 L490.5,286.5 L491.5,286.5 L492.5,286.6 L493.5,286.7 L494.5,286.8 L495.5,286.9 L496.5,287.1 L497.5,287.2 L498.5,287.4 L499.5,287.5 L500.5,287.7 L501.5,287.8 L502.5,288.0 L503.5,288.2 L504.5,288.3 L505.5,288.6 L506.5,288.8 L507.5,289.0 L508.5,289.3 L509.5,289.7 L510.5,290.0 L511.5,290.4 L512.5,290.8 L513.5,291.3 L514.5,291.7 L515.5,292.3 L516.5,292.8 L517.5,293.3 L518.5,293.9 L519.5,294.5 L520.5,295.1 L521.5,295.8 L522.5,296.4 L523.5,297.1 L524.5,297.8 L525.5,298.5 L526.5,299.2 L527.5,299.8 L528.5,300.5 L529.5,301.2 L530.5,301.9 L531.5,302.6 L532.5,303.2 L533.5,303.9 L534.5,304.5 L535.5,305.1 L536.5,305.7 L537.5,306.3" fill="none" stroke="#a2142f" stroke-width="3" stroke-linejoin="round"/>
</g>
<rect x="323.2" y="338.7" width="57.3" height="66.2" fill="#fff" stroke="#a8a8a8" stroke-width="0.7"/>
<line x1="325.5" y1="344.30" x2="340.1" y2="344.30" stroke="#0072bd" stroke-width="2.9"/>
<text x="342.0" y="347.2" font-size="8.2" text-anchor="start" font-weight="bold" fill="#111" textLength="30.1" lengthAdjust="spacingAndGlyphs">0 mmHg</text>
<line x1="325.5" y1="353.58" x2="340.1" y2="353.58" stroke="#d95319" stroke-width="2.9"/>
<text x="342.0" y="356.47999999999996" font-size="8.2" text-anchor="start" font-weight="bold" fill="#111" textLength="36.4" lengthAdjust="spacingAndGlyphs">1.5 mmHg</text>
<line x1="325.5" y1="362.86" x2="340.1" y2="362.86" stroke="#edb120" stroke-width="2.9"/>
<text x="342.0" y="365.76" font-size="8.2" text-anchor="start" font-weight="bold" fill="#111" textLength="30.1" lengthAdjust="spacingAndGlyphs">3 mmHg</text>
<line x1="325.5" y1="372.14" x2="340.1" y2="372.14" stroke="#7e2f8e" stroke-width="2.9"/>
<text x="342.0" y="375.03999999999996" font-size="8.2" text-anchor="start" font-weight="bold" fill="#111" textLength="36.4" lengthAdjust="spacingAndGlyphs">4.5 mmHg</text>
<line x1="325.5" y1="381.42" x2="340.1" y2="381.42" stroke="#77ac30" stroke-width="2.9"/>
<text x="342.0" y="384.32" font-size="8.2" text-anchor="start" font-weight="bold" fill="#111" textLength="30.1" lengthAdjust="spacingAndGlyphs">6 mmHg</text>
<line x1="325.5" y1="390.70" x2="340.1" y2="390.70" stroke="#4dbeee" stroke-width="2.9"/>
<text x="342.0" y="393.59999999999997" font-size="8.2" text-anchor="start" font-weight="bold" fill="#111" textLength="36.4" lengthAdjust="spacingAndGlyphs">7.5 mmHg</text>
<line x1="325.5" y1="399.98" x2="340.1" y2="399.98" stroke="#a2142f" stroke-width="2.9"/>
<text x="342.0" y="402.88" font-size="8.2" text-anchor="start" font-weight="bold" fill="#111" textLength="30.1" lengthAdjust="spacingAndGlyphs">9 mmHg</text>
</svg>
</body></html>
